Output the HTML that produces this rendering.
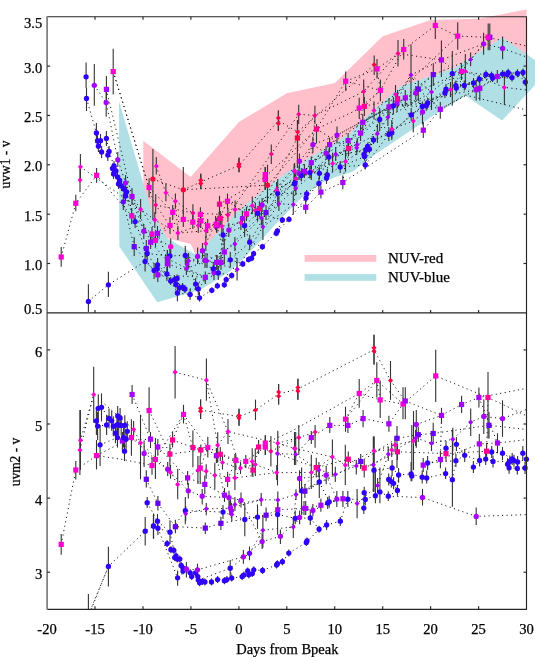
<!DOCTYPE html><html><head><meta charset="utf-8"><title>NUV colour curves</title>
<style>html,body{margin:0;padding:0;background:#fff}svg{display:block}text{font-family:"Liberation Serif","Times New Roman",serif;fill:#000;stroke:#000;stroke-width:0.25px}</style></head><body>
<svg width="535" height="657" viewBox="0 0 535 657">
<rect width="535" height="657" fill="#fff"/>
<polygon points="143.3,140.7 190.6,176.9 239.2,121.8 286.8,93.3 334.8,83.0 382.7,36.2 430.7,19.9 478.6,18.8 526.6,9.5 526.6,75.0 430.0,100.0 383.0,125.0 335.0,160.0 287.0,190.0 239.0,222.0 195.5,254.6 190.8,244.0 167.0,238.2 143.3,228.0" fill="#ffc0cb"/>
<polygon points="119.0,101.3 152.0,213.0 167.0,238.2 195.5,254.6 203.7,246.6 222.4,228.0 235.0,214.0 253.7,198.5 272.4,183.0 290.0,170.3 305.2,160.4 320.4,151.3 335.6,142.2 350.8,133.0 357.4,124.5 376.0,108.0 400.0,86.5 454.7,67.7 502.5,37.3 535.0,60.0 535.0,85.0 502.0,120.6 465.5,95.8 430.0,117.8 400.0,137.8 370.0,158.0 352.0,172.0 335.6,177.1 320.0,183.5 305.2,194.5 290.0,209.5 274.8,225.0 259.9,241.4 244.9,257.1 230.0,271.4 215.0,281.0 200.0,290.0 157.2,302.2 119.3,246.4" fill="#b0e0e6"/>
<rect x="304.6" y="255" width="71.7" height="6.8" fill="#ffc0cb"/>
<rect x="304.6" y="274.1" width="71.7" height="6.7" fill="#b0e0e6"/>
<text x="388" y="263.4" font-size="15">NUV-red</text>
<text x="388" y="282" font-size="15">NUV-blue</text>
<defs><clipPath id="fr"><rect x="47.1" y="16.7" width="479.4" height="592.5999999999999"/></clipPath></defs>
<g clip-path="url(#fr)" fill="none" stroke="#000" stroke-width="0.95" stroke-dasharray="1.1,3.4" stroke-linecap="butt">
<polyline points="61.2,257.0 75.8,203.3 96.6,175.3 131.7,215.9 152.0,234.0 170.0,225.5"/>
<polyline points="80.4,166.8 140.6,209.3 154.8,219.9 177.9,233.1 198.3,225.5"/>
<polyline points="88.4,301.5 108.4,284.8 145.1,261.5"/>
<polyline points="86.5,98.5 96.4,133.0"/>
<polyline points="94.3,85.3 106.2,102.6 117.8,159.8 125.6,182.8 143.8,231.2 170.7,246.7"/>
<polyline points="106.4,89.4 132.0,196.5 150.6,242.2 167.4,261.0"/>
<polyline points="113.2,71.6 149.1,187.5 172.7,212.3 183.3,219.4"/>
<polyline points="113.2,71.6 151.5,196.0 155.7,205.0 170.0,225.5"/>
<polyline points="123.3,201.8 134.2,246.7 157.8,274.8 205.3,277.3"/>
<polyline points="152.9,179.1 183.3,189.8 267.5,185.2"/>
<polyline points="156.3,166.2 165.9,192.8 175.4,201.2 192.9,213.0 227.9,214.8 271.3,154.0 298.7,114.3 314.9,115.4 363.7,91.5 398.0,53.5 441.4,59.9"/>
<polyline points="183.3,189.8 200.8,182.0 239.0,165.4 278.4,120.6 297.6,132.0 374.2,64.8"/>
<polyline points="219.5,204.2 265.2,177.0 316.5,129.1 345.7,81.2 377.0,68.9 403.7,49.5 435.3,25.5 457.7,36.1 487.8,37.3 526.5,46.0"/>
<polyline points="227.5,201.2 259.4,208.8 297.4,138.0 314.9,115.4"/>
<polyline points="246.5,213.8 267.5,185.2 316.5,129.1 364.4,106.3 380.4,90.3 403.7,49.5"/>
<polyline points="255.3,210.3 294.6,170.8 332.6,163.5 374.0,110.4 395.5,94.2 457.7,36.1"/>
<polyline points="262.1,205.0 299.4,161.2 312.9,144.7 337.0,135.1 389.0,107.0 411.0,75.0 441.4,59.9 483.6,43.8 502.6,48.4 526.5,57.0"/>
<polyline points="266.0,212.6 304.4,171.4 329.6,144.7 362.8,122.3 397.0,103.0 433.3,74.6 470.6,59.4 490.0,37.3"/>
<polyline points="262.9,226.8 293.3,204.6 305.7,207.3 320.9,192.1 342.8,182.5 423.3,130.2 440.3,109.3 465.3,95.0 526.5,110.0"/>
<polyline points="237.1,269.4 262.9,226.8"/>
<polyline points="413.3,121.0 450.5,89.4 465.3,71.3 504.4,87.4 526.5,90.0"/>
<polyline points="405.3,97.9 461.4,71.4 497.3,76.5"/>
<polyline points="61.2,544.4 75.8,470.0 96.5,455.6 123.0,459.5 152.0,465.5"/>
<polyline points="79.9,450.0 80.4,440.2 93.7,394.5 133.6,429.4 140.5,442.8 170.5,472.4 177.7,484.4"/>
<polyline points="91.3,609.3 108.4,566.5 145.2,531.2 153.6,526.1"/>
<polyline points="132.1,394.5 150.5,439.2 157.8,447.0 187.6,477.9 204.8,484.4 224.5,495.1"/>
<polyline points="149.1,410.5 169.9,454.1 200.8,450.0 220.3,454.3 252.9,470.1"/>
<polyline points="146.3,479.3 157.9,503.3 175.4,526.7 205.3,528.1 220.9,523.3 266.1,515.2 277.8,509.8"/>
<polyline points="144.1,453.4 167.7,469.2 188.3,490.8 202.2,496.2 229.0,497.7 241.0,500.3"/>
<polyline points="175.1,372.2 206.4,380.2 217.7,445.2 228.0,431.6 277.8,443.2 298.8,437.6"/>
<polyline points="183.5,414.4 172.6,440.0 169.9,454.1"/>
<polyline points="183.5,414.4 192.9,447.5 207.8,447.5"/>
<polyline points="200.6,410.0 239.0,416.7 255.5,410.0 278.6,394.0 297.9,389.0 374.0,349.7 390.5,380.5 405.3,401.0"/>
<polyline points="157.9,528.2 177.6,577.8 186.4,569.0 197.5,569.8 243.4,556.8 262.1,541.6 280.4,536.3 299.6,517.4"/>
<polyline points="157.5,521.2 170.0,532.2 185.3,510.6 223.0,512.1 244.8,519.5 257.5,517.1 277.6,514.5"/>
<polyline points="198.3,580.1 230.2,568.2 249.5,553.3 262.9,530.2 293.3,526.9 305.7,508.4 320.9,505.3 342.9,498.8"/>
<polyline points="185.7,513.7 206.3,508.8 229.8,508.3 261.2,499.7 277.8,500.0 296.0,494.6 335.3,474.4 356.3,466.0 373.3,464.8"/>
<polyline points="214.8,475.3 234.9,477.9 276.7,472.6 311.3,472.5 332.4,456.9 345.3,465.1 374.0,450.8 395.0,444.9 413.5,441.0"/>
<polyline points="258.6,447.0 270.9,451.3 316.3,467.6 348.3,459.2 364.2,468.1 397.4,451.8 446.0,453.6 486.6,451.2"/>
<polyline points="270.0,441.0 290.0,432.0 359.2,393.5 376.8,380.5 403.0,404.0"/>
<polyline points="345.5,419.2 376.8,380.5"/>
<polyline points="295.7,454.4 311.3,437.5 329.8,425.4 347.9,425.4 363.1,418.6 388.9,423.8 405.3,401.0"/>
<polyline points="403.0,404.0 435.7,375.9 488.0,397.5 526.5,415.8"/>
<polyline points="416.3,424.5 441.5,415.4 461.6,404.5 478.9,397.5 526.5,388.4"/>
<polyline points="388.3,496.2 422.5,497.5 476.2,516.4 526.5,514.6"/>
<polyline points="431.5,443.3 452.8,439.3 470.7,422.2 483.8,416.4 502.5,418.6 526.5,409.4"/>
<polyline points="433.2,433.5 489.0,425.3 526.5,429.5"/>
<polyline points="440.4,459.4 479.3,443.9 497.5,443.0 526.5,439.6"/>
<polyline points="299.5,478.5 326.2,475.2 336.8,499.1 357.1,503.5 377.6,485.5 388.3,454.2 415.6,438.0 431.5,443.3"/>
<polyline points="304.9,491.2 360.7,461.5 397.0,438.3 418.3,434.7 433.2,433.5"/>
<polyline points="135.1,221.6 147.2,253.5 157.2,268.7 166.9,274.0 177.4,293.0 190.1,294.5 199.5,297.8 211.8,290.3 217.4,285.8 224.3,284.8 231.7,275.4 242.7,263.9 253.6,253.7 262.4,246.7 277.4,231.0 289.0,219.3 306.0,198.1 318.9,183.5 327.3,174.9 340.2,167.0 364.5,156.6 373.5,140.0 391.8,132.7 411.2,114.8 426.2,105.8 444.9,92.9 456.3,88.0 473.5,83.0 485.9,74.5 502.6,74.1 517.4,73.3 525.3,82.1"/>
<polyline points="145.1,261.5 154.1,270.4 170.7,281.1 179.6,287.8 184.9,289.0 198.3,289.0 213.3,268.8 230.3,259.8 249.7,242.2 277.7,193.3 294.4,183.7 309.8,172.6 328.9,157.1 365.8,149.7 379.7,119.5 393.4,105.8 427.7,103.0 446.0,89.1 452.3,73.6 464.3,85.4 479.3,79.1 491.5,75.6 508.2,72.7 523.0,72.5"/>
<polyline points="169.9,256.0 185.3,255.4 195.6,284.1 218.3,272.9 223.1,235.0 244.6,225.7 257.6,213.3 282.4,219.9"/>
<polyline points="186.4,268.4 207.0,261.0 234.9,244.1 261.4,217.9 278.9,203.7 295.8,188.3 335.7,154.2 357.2,144.7 377.4,133.7 387.9,117.2 431.5,92.1 470.6,59.4"/>
<polyline points="197.6,256.4 202.5,250.7 217.0,262.4 228.8,230.1 242.4,218.3 262.1,205.0 299.1,173.3 326.1,153.2 337.0,135.1 415.8,92.9 422.5,112.0"/>
<polyline points="205.3,277.3 216.8,262.4 224.3,251.9 304.4,171.4 311.3,162.7 348.1,140.6 360.6,133.1 389.0,107.0 476.2,89.7 497.3,76.5"/>
<polyline points="205.8,243.7 215.6,222.9 235.1,209.5 252.3,205.7 295.8,178.7 345.5,161.5 391.8,129.1 413.3,121.0"/>
<polyline points="206.0,230.7 221.8,226.3 240.9,222.8 276.6,189.0 311.0,171.4 348.5,148.5 397.6,98.8"/>
<polyline points="365.3,165.0 388.8,134.3 422.3,106.4 455.8,85.6 492.6,78.0 512.0,77.6 526.5,75.0"/>
<polyline points="411.0,75.0 418.3,89.1 440.3,109.3"/>
<polyline points="96.4,133.0 97.5,141.0"/>
<polyline points="97.5,141.0 100.5,140.7"/>
<polyline points="98.4,146.2 100.5,140.7"/>
<polyline points="100.5,140.7 106.4,138.5"/>
<polyline points="101.6,151.9 109.1,151.5"/>
<polyline points="106.4,138.5 109.1,151.5"/>
<polyline points="107.8,155.1 109.1,151.5"/>
<polyline points="109.1,151.5 114.0,166.0"/>
<polyline points="112.5,168.5 114.0,166.0"/>
<polyline points="113.5,174.0 116.0,171.0"/>
<polyline points="116.0,171.0 117.5,177.0"/>
<polyline points="117.5,177.0 119.7,180.5"/>
<polyline points="118.5,184.0 121.5,186.0"/>
<polyline points="124.0,189.0 126.5,192.0"/>
<polyline points="125.5,196.0 135.1,221.6"/>
<polyline points="126.5,192.0 135.1,221.6"/>
<polyline points="145.1,261.5 147.2,253.5"/>
<polyline points="147.2,253.5 169.9,256.0"/>
<polyline points="154.1,270.4 157.2,268.7"/>
<polyline points="157.6,264.8 166.9,274.0"/>
<polyline points="166.9,274.0 170.7,281.1"/>
<polyline points="170.7,281.1 174.4,279.6"/>
<polyline points="174.4,279.6 177.1,278.5"/>
<polyline points="175.9,284.4 179.6,287.8"/>
<polyline points="177.1,278.5 179.6,287.8"/>
<polyline points="177.4,293.0 179.6,287.8"/>
<polyline points="185.3,255.4 213.3,268.8"/>
<polyline points="195.6,284.1 198.3,289.0"/>
<polyline points="198.3,289.0 199.5,297.8"/>
<polyline points="213.3,268.8 218.3,272.9"/>
<polyline points="218.3,272.9 231.7,275.4"/>
<polyline points="224.3,284.8 226.2,279.6"/>
<polyline points="226.2,279.6 231.7,275.4"/>
<polyline points="230.3,259.8 242.7,263.9"/>
<polyline points="242.7,263.9 248.6,259.4"/>
<polyline points="244.6,225.7 249.7,242.2"/>
<polyline points="248.6,259.4 251.6,258.2"/>
<polyline points="249.7,242.2 262.4,246.7"/>
<polyline points="251.6,258.2 253.6,253.7"/>
<polyline points="276.3,233.2 277.4,231.0"/>
<polyline points="277.4,231.0 282.4,219.9"/>
<polyline points="277.7,193.3 306.7,193.9"/>
<polyline points="282.4,219.9 289.0,219.3"/>
<polyline points="294.4,183.7 301.4,175.6"/>
<polyline points="301.4,175.6 309.8,172.6"/>
<polyline points="306.7,193.9 318.9,183.5"/>
<polyline points="309.8,172.6 319.4,173.3"/>
<polyline points="319.4,173.3 327.3,174.9"/>
<polyline points="328.9,157.1 340.2,167.0"/>
<polyline points="340.2,167.0 365.3,165.0"/>
<polyline points="364.0,154.3 365.8,149.7"/>
<polyline points="365.3,165.0 369.4,149.2"/>
<polyline points="365.8,149.7 369.4,149.2"/>
<polyline points="369.4,149.2 373.5,140.0"/>
<polyline points="379.7,119.5 388.8,134.3"/>
<polyline points="388.8,134.3 391.8,132.7"/>
<polyline points="391.8,132.7 393.4,105.8"/>
<polyline points="393.4,105.8 422.3,106.4"/>
<polyline points="411.2,114.8 422.3,106.4"/>
<polyline points="422.3,106.4 426.2,105.8"/>
<polyline points="426.2,105.8 427.7,103.0"/>
<polyline points="444.9,92.9 446.0,89.1"/>
<polyline points="446.0,89.1 456.3,88.0"/>
<polyline points="452.3,73.6 455.8,85.6"/>
<polyline points="455.8,85.6 464.3,85.4"/>
<polyline points="464.3,85.4 473.5,83.0"/>
<polyline points="473.5,83.0 479.3,79.1"/>
<polyline points="479.3,79.1 485.9,74.5"/>
<polyline points="485.9,74.5 491.5,75.6"/>
<polyline points="491.5,75.6 492.6,78.0"/>
<polyline points="492.6,78.0 502.6,74.1"/>
<polyline points="502.6,74.1 507.2,74.5"/>
<polyline points="507.2,74.5 512.0,77.6"/>
<polyline points="508.2,72.7 517.4,73.3"/>
<polyline points="512.0,77.6 517.4,73.3"/>
<polyline points="517.4,73.3 523.0,72.5"/>
<polyline points="523.0,72.5 525.3,82.1"/>
<polyline points="197.6,256.4 205.0,260.4"/>
<polyline points="202.5,250.7 205.0,260.4"/>
<polyline points="205.0,260.4 217.0,262.4"/>
<polyline points="214.0,272.6 217.0,262.4"/>
<polyline points="299.1,173.3 312.9,144.7"/>
<polyline points="312.9,144.7 326.1,153.2"/>
<polyline points="132.0,196.5 157.5,233.3"/>
<polyline points="150.6,242.2 157.5,233.3"/>
<polyline points="157.5,233.3 167.4,258.8"/>
<polyline points="157.8,274.8 167.4,263.8"/>
<polyline points="167.4,258.8 205.3,277.3"/>
<polyline points="167.4,263.8 205.3,277.3"/>
<polyline points="216.8,225.8 224.3,251.9"/>
<polyline points="216.8,262.4 221.0,262.4"/>
<polyline points="221.0,262.4 224.3,251.9"/>
<polyline points="311.3,162.7 329.6,144.7"/>
<polyline points="329.6,144.7 348.1,140.6"/>
<polyline points="342.8,182.5 348.1,140.6"/>
<polyline points="360.6,133.1 362.8,122.3"/>
<polyline points="362.8,122.3 389.0,107.0"/>
<polyline points="389.0,107.0 397.0,103.0"/>
<polyline points="397.0,103.0 405.3,97.9"/>
<polyline points="405.3,97.9 440.3,109.3"/>
<polyline points="440.3,109.3 476.2,89.7"/>
<polyline points="441.4,59.9 476.2,89.7"/>
<polyline points="476.2,89.7 479.8,88.3"/>
<polyline points="479.8,88.3 497.3,76.5"/>
<polyline points="152.0,234.0 155.5,240.4"/>
<polyline points="155.5,240.4 170.0,225.5"/>
<polyline points="170.0,225.5 183.3,219.4"/>
<polyline points="183.3,219.4 192.8,222.1"/>
<polyline points="192.8,222.1 200.8,220.9"/>
<polyline points="200.4,214.4 207.7,225.8"/>
<polyline points="200.8,220.9 207.7,225.8"/>
<polyline points="207.7,225.8 216.5,224.7"/>
<polyline points="216.5,224.7 227.5,201.2"/>
<polyline points="227.5,201.2 246.5,213.8"/>
<polyline points="246.5,213.8 265.2,179.4"/>
<polyline points="345.7,81.2 380.4,90.3"/>
<polyline points="359.2,108.1 380.4,90.3"/>
<polyline points="377.0,68.9 380.4,90.3"/>
<polyline points="461.4,71.4 488.2,37.3"/>
<polyline points="175.4,201.2 177.9,233.1"/>
<polyline points="177.9,233.1 206.0,230.7"/>
<polyline points="198.3,225.5 206.0,230.7"/>
<polyline points="206.0,230.7 215.6,222.9"/>
<polyline points="215.6,222.9 221.8,226.3"/>
<polyline points="235.1,209.5 255.3,210.3"/>
<polyline points="240.9,222.8 255.3,210.3"/>
<polyline points="252.3,205.7 255.3,210.3"/>
<polyline points="294.6,170.8 295.8,178.7"/>
<polyline points="295.8,178.7 332.6,163.5"/>
<polyline points="332.6,163.5 345.5,161.5"/>
<polyline points="345.5,161.5 374.0,110.4"/>
<polyline points="395.5,94.2 413.3,121.0"/>
<polyline points="134.2,246.7 146.3,248.5"/>
<polyline points="418.3,89.1 433.3,74.6"/>
<polyline points="155.7,205.0 192.9,213.0"/>
<polyline points="311.0,171.4 314.9,115.4"/>
<polyline points="316.5,129.1 348.5,148.5"/>
<polyline points="348.5,148.5 364.4,106.3"/>
<polyline points="364.4,106.3 397.6,98.8"/>
<polyline points="186.4,268.4 188.6,260.9"/>
<polyline points="187.1,264.6 188.6,260.9"/>
<polyline points="188.6,260.9 207.0,261.0"/>
<polyline points="207.0,261.0 237.1,269.4"/>
<polyline points="234.9,244.1 237.1,269.4"/>
<polyline points="261.4,217.9 262.9,226.8"/>
<polyline points="262.9,226.8 278.9,203.7"/>
<polyline points="278.9,203.7 293.3,204.6"/>
<polyline points="293.3,204.6 295.8,188.3"/>
<polyline points="294.1,171.5 295.8,188.3"/>
<polyline points="387.9,117.2 411.0,75.0"/>
<polyline points="411.0,75.0 431.5,92.1"/>
<polyline points="79.9,450.0 93.7,394.5"/>
<polyline points="177.7,484.4 197.9,470.3"/>
<polyline points="197.9,470.3 206.2,471.2"/>
<polyline points="206.2,471.2 214.8,475.3"/>
<polyline points="206.4,380.2 228.0,431.6"/>
<polyline points="222.5,462.5 240.5,468.0"/>
<polyline points="228.0,431.6 240.5,468.0"/>
<polyline points="234.9,477.9 240.5,468.0"/>
<polyline points="240.5,468.0 255.3,464.5"/>
<polyline points="252.2,461.4 255.3,464.5"/>
<polyline points="255.3,464.5 276.7,472.6"/>
<polyline points="277.8,443.2 294.5,448.3"/>
<polyline points="294.5,448.3 332.4,456.9"/>
<polyline points="374.0,450.8 391.7,449.9"/>
<polyline points="391.7,449.9 395.0,444.9"/>
<polyline points="122.4,440.8 150.5,439.2"/>
<polyline points="216.4,455.7 224.5,495.1"/>
<polyline points="277.8,509.8 305.7,508.4"/>
<polyline points="405.3,401.0 441.5,415.4"/>
<polyline points="423.2,465.1 440.4,459.4"/>
<polyline points="440.4,459.4 441.5,415.4"/>
<polyline points="478.9,397.5 497.5,443.0"/>
<polyline points="96.5,455.6 131.4,437.5"/>
<polyline points="131.4,437.5 155.4,459.5"/>
<polyline points="152.0,465.5 155.4,459.5"/>
<polyline points="155.4,459.5 183.5,414.4"/>
<polyline points="183.5,414.4 207.8,447.5"/>
<polyline points="200.2,468.0 207.8,447.5"/>
<polyline points="207.8,447.5 235.8,460.4"/>
<polyline points="227.6,479.4 235.8,460.4"/>
<polyline points="235.8,460.4 245.8,461.4"/>
<polyline points="245.8,461.4 265.3,447.0"/>
<polyline points="345.5,419.2 359.2,393.5"/>
<polyline points="359.2,393.5 380.2,399.9"/>
<polyline points="376.8,380.5 380.2,399.9"/>
<polyline points="380.2,399.9 403.0,404.0"/>
<polyline points="88.4,615.0 108.4,566.5"/>
<polyline points="96.4,420.9 97.6,426.1"/>
<polyline points="97.6,426.1 106.6,425.0"/>
<polyline points="98.3,408.3 101.5,407.3"/>
<polyline points="100.1,444.8 117.5,437.6"/>
<polyline points="101.5,407.3 109.0,418.4"/>
<polyline points="106.6,425.0 113.3,426.2"/>
<polyline points="109.0,418.4 111.7,420.8"/>
<polyline points="111.7,420.8 113.3,426.2"/>
<polyline points="113.3,426.2 116.9,424.8"/>
<polyline points="115.5,433.2 117.5,437.6"/>
<polyline points="116.9,424.8 118.7,425.0"/>
<polyline points="117.5,437.6 123.5,437.5"/>
<polyline points="117.7,416.0 120.1,417.9"/>
<polyline points="120.1,417.9 121.2,425.4"/>
<polyline points="121.2,425.4 124.8,425.3"/>
<polyline points="123.5,437.5 126.1,439.0"/>
<polyline points="124.5,451.2 126.1,439.0"/>
<polyline points="124.8,425.3 127.3,431.3"/>
<polyline points="126.1,439.0 127.3,431.3"/>
<polyline points="147.2,502.7 157.5,521.2"/>
<polyline points="153.4,525.9 157.9,528.2"/>
<polyline points="157.9,528.2 170.0,532.2"/>
<polyline points="167.1,543.6 170.9,549.7"/>
<polyline points="170.0,532.2 173.8,550.3"/>
<polyline points="170.9,549.7 173.8,550.3"/>
<polyline points="173.8,550.3 176.0,555.8"/>
<polyline points="174.7,557.6 176.0,555.8"/>
<polyline points="177.3,559.1 179.8,559.1"/>
<polyline points="179.8,559.1 181.1,565.5"/>
<polyline points="181.1,565.5 183.3,568.2"/>
<polyline points="183.0,571.0 190.2,572.8"/>
<polyline points="190.2,572.8 195.5,572.8"/>
<polyline points="191.7,576.6 197.8,576.6"/>
<polyline points="195.5,572.8 197.8,576.6"/>
<polyline points="197.8,576.6 199.6,582.7"/>
<polyline points="199.6,582.7 202.4,581.5"/>
<polyline points="204.9,581.9 211.5,581.9"/>
<polyline points="211.5,581.9 217.6,579.6"/>
<polyline points="217.6,579.6 224.4,580.7"/>
<polyline points="224.4,580.7 226.9,579.6"/>
<polyline points="226.9,579.6 231.7,578.1"/>
<polyline points="230.2,568.2 231.7,578.1"/>
<polyline points="231.7,578.1 242.1,576.6"/>
<polyline points="242.1,576.6 243.9,575.1"/>
<polyline points="243.9,575.1 248.8,574.8"/>
<polyline points="247.7,571.0 248.8,574.8"/>
<polyline points="248.8,574.8 252.3,573.6"/>
<polyline points="252.3,573.6 253.8,569.8"/>
<polyline points="253.8,569.8 262.6,570.5"/>
<polyline points="262.6,570.5 276.6,564.9"/>
<polyline points="276.6,564.9 282.4,561.7"/>
<polyline points="277.6,514.5 295.2,518.3"/>
<polyline points="282.4,561.7 288.8,553.1"/>
<polyline points="288.8,553.1 306.3,542.6"/>
<polyline points="295.2,518.3 310.3,518.0"/>
<polyline points="301.6,490.8 319.3,482.0"/>
<polyline points="306.3,542.6 319.1,529.2"/>
<polyline points="310.3,518.0 319.1,529.2"/>
<polyline points="319.1,529.2 326.6,525.0"/>
<polyline points="319.3,482.0 329.2,501.8"/>
<polyline points="326.6,525.0 340.3,521.2"/>
<polyline points="327.7,503.0 329.2,501.8"/>
<polyline points="329.2,501.8 347.8,499.2"/>
<polyline points="340.3,521.2 347.8,499.2"/>
<polyline points="347.8,499.2 365.3,499.5"/>
<polyline points="363.8,508.1 365.3,499.5"/>
<polyline points="364.2,492.7 365.3,499.5"/>
<polyline points="365.3,499.5 375.4,495.7"/>
<polyline points="374.0,470.2 392.1,467.9"/>
<polyline points="375.4,495.7 379.9,491.9"/>
<polyline points="379.9,491.9 388.3,496.2"/>
<polyline points="388.3,496.2 397.4,490.4"/>
<polyline points="388.7,479.4 391.3,481.6"/>
<polyline points="392.1,467.9 398.6,474.9"/>
<polyline points="393.6,483.3 397.4,490.4"/>
<polyline points="397.4,490.4 398.6,474.9"/>
<polyline points="398.6,474.9 411.1,474.0"/>
<polyline points="411.1,474.0 422.2,477.2"/>
<polyline points="422.2,477.2 426.7,477.9"/>
<polyline points="426.7,477.9 445.6,473.6"/>
<polyline points="427.6,463.0 455.9,460.7"/>
<polyline points="445.6,473.6 452.4,479.7"/>
<polyline points="446.0,448.2 456.4,444.3"/>
<polyline points="452.4,479.7 455.9,460.7"/>
<polyline points="455.9,460.7 464.7,455.3"/>
<polyline points="456.4,444.3 464.7,455.3"/>
<polyline points="464.7,455.3 479.6,460.5"/>
<polyline points="473.4,467.1 479.6,460.5"/>
<polyline points="479.6,460.5 485.7,459.1"/>
<polyline points="485.7,459.1 493.0,461.4"/>
<polyline points="491.7,452.0 502.5,453.2"/>
<polyline points="493.0,461.4 509.8,461.4"/>
<polyline points="502.5,453.2 512.2,458.9"/>
<polyline points="507.6,464.2 509.8,461.4"/>
<polyline points="509.1,467.8 517.3,468.4"/>
<polyline points="509.8,461.4 514.0,460.7"/>
<polyline points="514.0,460.7 517.6,462.0"/>
<polyline points="517.3,468.4 525.0,468.0"/>
<polyline points="517.6,462.0 526.4,459.2"/>
<polyline points="522.8,453.2 526.4,459.2"/>
<polyline points="525.0,468.0 526.4,459.2"/>
<polyline points="230.6,507.6 241.0,500.3"/>
<polyline points="241.0,500.3 262.1,541.6"/>
<polyline points="299.6,517.4 304.0,508.3"/>
<polyline points="304.0,508.3 312.9,510.5"/>
<polyline points="312.9,510.5 336.8,499.1"/>
<polyline points="172.6,440.0 192.9,447.5"/>
<polyline points="192.9,447.5 200.8,450.0"/>
<polyline points="252.9,470.1 258.6,447.0"/>
<polyline points="486.6,451.2 488.0,397.5"/>
<polyline points="229.8,508.3 234.9,504.5"/>
<polyline points="231.8,514.4 234.9,504.5"/>
<polyline points="234.9,504.5 261.2,499.7"/>
<polyline points="277.5,453.6 295.7,454.4"/>
<polyline points="293.3,526.9 296.0,494.6"/>
<polyline points="295.7,454.4 318.9,469.9"/>
<polyline points="296.0,494.6 318.9,469.9"/>
<polyline points="318.9,469.9 335.3,474.4"/>
<polyline points="373.3,464.8 388.3,454.2"/>
<polyline points="270.9,451.3 298.8,437.6"/>
<polyline points="298.8,437.6 315.1,432.1"/>
</g>
<g stroke="#333" stroke-width="1.1">
<line x1="122.4" y1="432.0" x2="122.4" y2="450.0"/>
<line x1="86.1" y1="62.5" x2="86.1" y2="88.0"/>
<line x1="86.5" y1="88.0" x2="86.5" y2="111.0"/>
<line x1="94.3" y1="64.0" x2="94.3" y2="105.8"/>
<line x1="106.4" y1="76.0" x2="106.4" y2="100.0"/>
<line x1="106.2" y1="92.0" x2="106.2" y2="116.8"/>
<line x1="113.2" y1="48.8" x2="113.2" y2="94.4"/>
<line x1="96.4" y1="123.0" x2="96.4" y2="141.0"/>
<line x1="97.5" y1="135.0" x2="97.5" y2="147.0"/>
<line x1="100.5" y1="134.0" x2="100.5" y2="147.0"/>
<line x1="98.4" y1="141.0" x2="98.4" y2="152.0"/>
<line x1="106.4" y1="131.0" x2="106.4" y2="146.0"/>
<line x1="101.6" y1="146.0" x2="101.6" y2="158.0"/>
<line x1="109.1" y1="146.0" x2="109.1" y2="157.0"/>
<line x1="107.8" y1="150.0" x2="107.8" y2="161.0"/>
<line x1="117.8" y1="152.0" x2="117.8" y2="167.0"/>
<line x1="80.4" y1="154.0" x2="80.4" y2="180.0"/>
<line x1="80.0" y1="168.0" x2="80.0" y2="192.0"/>
<line x1="96.6" y1="168.0" x2="96.6" y2="182.8"/>
<line x1="75.8" y1="194.7" x2="75.8" y2="211.3"/>
<line x1="61.2" y1="247.0" x2="61.2" y2="266.8"/>
<line x1="108.4" y1="271.8" x2="108.4" y2="296.9"/>
<line x1="88.4" y1="284.3" x2="88.4" y2="312.0"/>
<line x1="112.5" y1="163.5" x2="112.5" y2="173.5"/>
<line x1="114.0" y1="161.0" x2="114.0" y2="171.0"/>
<line x1="113.5" y1="169.0" x2="113.5" y2="179.0"/>
<line x1="116.0" y1="166.0" x2="116.0" y2="176.0"/>
<line x1="117.5" y1="172.0" x2="117.5" y2="182.0"/>
<line x1="119.7" y1="175.5" x2="119.7" y2="185.5"/>
<line x1="118.5" y1="179.0" x2="118.5" y2="189.0"/>
<line x1="121.5" y1="181.0" x2="121.5" y2="191.0"/>
<line x1="124.0" y1="184.0" x2="124.0" y2="194.0"/>
<line x1="126.5" y1="187.0" x2="126.5" y2="197.0"/>
<line x1="125.5" y1="191.0" x2="125.5" y2="201.0"/>
<line x1="125.6" y1="175.0" x2="125.6" y2="190.0"/>
<line x1="132.0" y1="188.0" x2="132.0" y2="205.0"/>
<line x1="123.3" y1="194.0" x2="123.3" y2="210.0"/>
<line x1="140.6" y1="199.0" x2="140.6" y2="219.0"/>
<line x1="131.7" y1="208.0" x2="131.7" y2="224.0"/>
<line x1="135.1" y1="215.0" x2="135.1" y2="228.0"/>
<line x1="143.8" y1="224.0" x2="143.8" y2="239.0"/>
<line x1="154.8" y1="212.0" x2="154.8" y2="228.0"/>
<line x1="152.0" y1="227.0" x2="152.0" y2="241.0"/>
<line x1="155.5" y1="233.0" x2="155.5" y2="247.0"/>
<line x1="150.6" y1="235.0" x2="150.6" y2="249.0"/>
<line x1="157.5" y1="226.0" x2="157.5" y2="241.0"/>
<line x1="134.2" y1="237.0" x2="134.2" y2="256.0"/>
<line x1="146.3" y1="240.0" x2="146.3" y2="257.0"/>
<line x1="147.2" y1="247.0" x2="147.2" y2="260.0"/>
<line x1="145.1" y1="252.0" x2="145.1" y2="271.4"/>
<line x1="154.1" y1="263.0" x2="154.1" y2="279.0"/>
<line x1="157.6" y1="258.0" x2="157.6" y2="272.0"/>
<line x1="157.2" y1="262.0" x2="157.2" y2="275.0"/>
<line x1="157.8" y1="267.0" x2="157.8" y2="282.0"/>
<line x1="156.3" y1="157.0" x2="156.3" y2="174.5"/>
<line x1="152.9" y1="149.0" x2="152.9" y2="220.0"/>
<line x1="149.1" y1="178.3" x2="149.1" y2="197.4"/>
<line x1="165.9" y1="183.7" x2="165.9" y2="201.2"/>
<line x1="175.4" y1="193.6" x2="175.4" y2="208.8"/>
<line x1="183.3" y1="167.0" x2="183.3" y2="214.0"/>
<line x1="200.8" y1="173.8" x2="200.8" y2="189.0"/>
<line x1="200.8" y1="173.8" x2="200.8" y2="189.0"/>
<line x1="155.7" y1="195.0" x2="155.7" y2="214.0"/>
<line x1="172.7" y1="205.0" x2="172.7" y2="220.0"/>
<line x1="183.3" y1="212.0" x2="183.3" y2="227.0"/>
<line x1="170.0" y1="217.0" x2="170.0" y2="234.0"/>
<line x1="192.9" y1="204.2" x2="192.9" y2="222.0"/>
<line x1="200.4" y1="207.2" x2="200.4" y2="228.0"/>
<line x1="192.8" y1="215.0" x2="192.8" y2="229.0"/>
<line x1="200.8" y1="214.0" x2="200.8" y2="228.0"/>
<line x1="198.3" y1="218.0" x2="198.3" y2="233.0"/>
<line x1="207.7" y1="219.0" x2="207.7" y2="233.0"/>
<line x1="206.0" y1="224.0" x2="206.0" y2="238.0"/>
<line x1="216.8" y1="218.0" x2="216.8" y2="233.0"/>
<line x1="215.6" y1="216.0" x2="215.6" y2="230.0"/>
<line x1="219.5" y1="195.8" x2="219.5" y2="214.0"/>
<line x1="219.1" y1="212.0" x2="219.1" y2="226.0"/>
<line x1="177.9" y1="226.0" x2="177.9" y2="240.0"/>
<line x1="239.0" y1="157.8" x2="239.0" y2="172.3"/>
<line x1="239.0" y1="157.8" x2="239.0" y2="172.3"/>
<line x1="271.3" y1="144.4" x2="271.3" y2="163.9"/>
<line x1="265.2" y1="167.0" x2="265.2" y2="190.0"/>
<line x1="265.2" y1="167.0" x2="265.2" y2="190.0"/>
<line x1="267.5" y1="164.7" x2="267.5" y2="203.4"/>
<line x1="227.5" y1="193.6" x2="227.5" y2="209.5"/>
<line x1="235.1" y1="200.4" x2="235.1" y2="217.9"/>
<line x1="252.3" y1="196.6" x2="252.3" y2="214.0"/>
<line x1="255.3" y1="203.0" x2="255.3" y2="217.0"/>
<line x1="259.4" y1="202.0" x2="259.4" y2="216.0"/>
<line x1="262.1" y1="198.0" x2="262.1" y2="212.0"/>
<line x1="257.6" y1="206.0" x2="257.6" y2="221.0"/>
<line x1="266.0" y1="205.0" x2="266.0" y2="220.0"/>
<line x1="261.4" y1="211.0" x2="261.4" y2="225.0"/>
<line x1="262.9" y1="218.0" x2="262.9" y2="240.0"/>
<line x1="246.5" y1="207.0" x2="246.5" y2="221.0"/>
<line x1="227.9" y1="208.0" x2="227.9" y2="222.0"/>
<line x1="220.3" y1="211.0" x2="220.3" y2="225.0"/>
<line x1="216.5" y1="218.0" x2="216.5" y2="232.0"/>
<line x1="221.8" y1="220.0" x2="221.8" y2="233.0"/>
<line x1="242.4" y1="211.0" x2="242.4" y2="225.0"/>
<line x1="240.9" y1="216.0" x2="240.9" y2="230.0"/>
<line x1="244.6" y1="218.0" x2="244.6" y2="237.0"/>
<line x1="228.8" y1="223.0" x2="228.8" y2="237.0"/>
<line x1="223.1" y1="228.0" x2="223.1" y2="242.0"/>
<line x1="277.7" y1="179.0" x2="277.7" y2="206.5"/>
<line x1="276.6" y1="182.0" x2="276.6" y2="196.0"/>
<line x1="278.9" y1="196.0" x2="278.9" y2="211.0"/>
<line x1="293.3" y1="190.8" x2="293.3" y2="214.4"/>
<line x1="294.1" y1="164.0" x2="294.1" y2="179.0"/>
<line x1="294.4" y1="176.0" x2="294.4" y2="191.0"/>
<line x1="282.4" y1="216.9" x2="282.4" y2="222.9"/>
<line x1="289.0" y1="216.3" x2="289.0" y2="222.3"/>
<line x1="170.7" y1="238.5" x2="170.7" y2="255.0"/>
<line x1="169.9" y1="246.0" x2="169.9" y2="268.0"/>
<line x1="167.4" y1="250.0" x2="167.4" y2="272.0"/>
<line x1="167.4" y1="250.0" x2="167.4" y2="272.0"/>
<line x1="166.9" y1="267.0" x2="166.9" y2="281.0"/>
<line x1="185.3" y1="246.0" x2="185.3" y2="263.9"/>
<line x1="188.6" y1="253.0" x2="188.6" y2="268.0"/>
<line x1="187.1" y1="257.0" x2="187.1" y2="272.0"/>
<line x1="186.4" y1="260.0" x2="186.4" y2="275.0"/>
<line x1="197.6" y1="247.4" x2="197.6" y2="263.9"/>
<line x1="202.5" y1="243.0" x2="202.5" y2="258.0"/>
<line x1="205.8" y1="236.0" x2="205.8" y2="251.0"/>
<line x1="205.0" y1="253.0" x2="205.0" y2="268.0"/>
<line x1="207.0" y1="253.0" x2="207.0" y2="268.0"/>
<line x1="205.3" y1="271.4" x2="205.3" y2="284.0"/>
<line x1="217.0" y1="255.0" x2="217.0" y2="270.0"/>
<line x1="214.0" y1="265.0" x2="214.0" y2="280.0"/>
<line x1="213.3" y1="262.0" x2="213.3" y2="276.0"/>
<line x1="218.3" y1="266.0" x2="218.3" y2="280.0"/>
<line x1="170.7" y1="277.1" x2="170.7" y2="285.1"/>
<line x1="174.4" y1="275.6" x2="174.4" y2="283.6"/>
<line x1="177.1" y1="274.5" x2="177.1" y2="282.5"/>
<line x1="175.9" y1="280.4" x2="175.9" y2="288.4"/>
<line x1="179.6" y1="283.8" x2="179.6" y2="291.8"/>
<line x1="182.6" y1="283.1" x2="182.6" y2="291.1"/>
<line x1="184.9" y1="285.0" x2="184.9" y2="293.0"/>
<line x1="177.4" y1="287.0" x2="177.4" y2="301.3"/>
<line x1="190.1" y1="289.0" x2="190.1" y2="300.0"/>
<line x1="195.6" y1="278.0" x2="195.6" y2="290.0"/>
<line x1="198.3" y1="283.0" x2="198.3" y2="295.0"/>
<line x1="199.5" y1="292.0" x2="199.5" y2="301.6"/>
<line x1="211.8" y1="287.3" x2="211.8" y2="293.3"/>
<line x1="217.4" y1="282.8" x2="217.4" y2="288.8"/>
<line x1="224.3" y1="281.8" x2="224.3" y2="287.8"/>
<line x1="226.2" y1="276.6" x2="226.2" y2="282.6"/>
<line x1="231.7" y1="272.4" x2="231.7" y2="278.4"/>
<line x1="242.7" y1="260.9" x2="242.7" y2="266.9"/>
<line x1="248.6" y1="256.4" x2="248.6" y2="262.4"/>
<line x1="251.6" y1="255.2" x2="251.6" y2="261.2"/>
<line x1="253.6" y1="250.7" x2="253.6" y2="256.7"/>
<line x1="262.4" y1="243.7" x2="262.4" y2="249.7"/>
<line x1="276.3" y1="230.2" x2="276.3" y2="236.2"/>
<line x1="277.4" y1="228.0" x2="277.4" y2="234.0"/>
<line x1="237.1" y1="257.9" x2="237.1" y2="280.6"/>
<line x1="216.8" y1="255.0" x2="216.8" y2="270.0"/>
<line x1="221.0" y1="255.0" x2="221.0" y2="270.0"/>
<line x1="230.3" y1="252.0" x2="230.3" y2="267.6"/>
<line x1="224.3" y1="238.5" x2="224.3" y2="264.6"/>
<line x1="234.9" y1="237.0" x2="234.9" y2="251.0"/>
<line x1="249.7" y1="234.7" x2="249.7" y2="249.7"/>
<line x1="278.4" y1="110.4" x2="278.4" y2="131.0"/>
<line x1="278.4" y1="110.4" x2="278.4" y2="131.0"/>
<line x1="298.7" y1="104.7" x2="298.7" y2="124.0"/>
<line x1="297.6" y1="120.0" x2="297.6" y2="150.0"/>
<line x1="297.4" y1="120.0" x2="297.4" y2="168.0"/>
<line x1="314.9" y1="105.8" x2="314.9" y2="124.0"/>
<line x1="316.5" y1="124.0" x2="316.5" y2="143.5"/>
<line x1="345.7" y1="71.6" x2="345.7" y2="91.0"/>
<line x1="363.7" y1="79.6" x2="363.7" y2="103.0"/>
<line x1="364.4" y1="97.0" x2="364.4" y2="116.0"/>
<line x1="359.2" y1="97.8" x2="359.2" y2="118.4"/>
<line x1="374.2" y1="55.6" x2="374.2" y2="75.0"/>
<line x1="377.0" y1="59.0" x2="377.0" y2="78.4"/>
<line x1="380.4" y1="79.6" x2="380.4" y2="101.3"/>
<line x1="374.0" y1="101.3" x2="374.0" y2="119.5"/>
<line x1="362.8" y1="114.0" x2="362.8" y2="131.0"/>
<line x1="360.6" y1="125.0" x2="360.6" y2="141.0"/>
<line x1="337.0" y1="126.4" x2="337.0" y2="143.5"/>
<line x1="312.9" y1="136.8" x2="312.9" y2="152.8"/>
<line x1="329.6" y1="137.6" x2="329.6" y2="152.0"/>
<line x1="348.1" y1="133.0" x2="348.1" y2="148.0"/>
<line x1="348.5" y1="141.0" x2="348.5" y2="156.0"/>
<line x1="357.2" y1="138.0" x2="357.2" y2="152.0"/>
<line x1="356.7" y1="141.0" x2="356.7" y2="155.0"/>
<line x1="326.1" y1="146.0" x2="326.1" y2="160.0"/>
<line x1="328.9" y1="150.0" x2="328.9" y2="164.0"/>
<line x1="335.7" y1="147.0" x2="335.7" y2="161.0"/>
<line x1="367.7" y1="142.5" x2="367.7" y2="150.5"/>
<line x1="365.8" y1="145.7" x2="365.8" y2="153.7"/>
<line x1="369.4" y1="145.2" x2="369.4" y2="153.2"/>
<line x1="364.0" y1="150.3" x2="364.0" y2="158.3"/>
<line x1="364.5" y1="152.6" x2="364.5" y2="160.6"/>
<line x1="373.5" y1="136.0" x2="373.5" y2="144.0"/>
<line x1="365.3" y1="160.4" x2="365.3" y2="169.5"/>
<line x1="379.7" y1="108.0" x2="379.7" y2="131.0"/>
<line x1="377.4" y1="124.0" x2="377.4" y2="143.0"/>
<line x1="387.9" y1="108.0" x2="387.9" y2="126.0"/>
<line x1="389.0" y1="98.0" x2="389.0" y2="116.0"/>
<line x1="388.8" y1="127.0" x2="388.8" y2="141.0"/>
<line x1="391.8" y1="125.0" x2="391.8" y2="140.0"/>
<line x1="391.8" y1="120.0" x2="391.8" y2="138.0"/>
<line x1="395.5" y1="85.0" x2="395.5" y2="104.0"/>
<line x1="397.0" y1="94.0" x2="397.0" y2="112.0"/>
<line x1="397.6" y1="90.0" x2="397.6" y2="108.0"/>
<line x1="393.4" y1="97.0" x2="393.4" y2="114.0"/>
<line x1="299.4" y1="153.6" x2="299.4" y2="168.8"/>
<line x1="345.5" y1="149.8" x2="345.5" y2="171.8"/>
<line x1="332.6" y1="152.8" x2="332.6" y2="172.6"/>
<line x1="340.2" y1="161.0" x2="340.2" y2="173.0"/>
<line x1="311.3" y1="156.6" x2="311.3" y2="180.0"/>
<line x1="294.6" y1="163.0" x2="294.6" y2="178.0"/>
<line x1="295.8" y1="171.0" x2="295.8" y2="186.0"/>
<line x1="299.1" y1="166.0" x2="299.1" y2="180.0"/>
<line x1="304.4" y1="164.0" x2="304.4" y2="178.0"/>
<line x1="311.0" y1="164.0" x2="311.0" y2="178.0"/>
<line x1="301.4" y1="169.6" x2="301.4" y2="181.6"/>
<line x1="309.8" y1="166.6" x2="309.8" y2="178.6"/>
<line x1="319.4" y1="167.3" x2="319.4" y2="179.3"/>
<line x1="327.3" y1="168.9" x2="327.3" y2="180.9"/>
<line x1="326.5" y1="171.9" x2="326.5" y2="183.9"/>
<line x1="318.9" y1="177.5" x2="318.9" y2="189.5"/>
<line x1="295.0" y1="177.2" x2="295.0" y2="189.2"/>
<line x1="295.8" y1="181.0" x2="295.8" y2="195.0"/>
<line x1="306.7" y1="189.9" x2="306.7" y2="197.9"/>
<line x1="306.0" y1="194.1" x2="306.0" y2="202.1"/>
<line x1="320.9" y1="185.5" x2="320.9" y2="198.4"/>
<line x1="342.8" y1="175.6" x2="342.8" y2="189.3"/>
<line x1="305.7" y1="200.7" x2="305.7" y2="213.7"/>
<line x1="398.0" y1="40.0" x2="398.0" y2="66.6"/>
<line x1="403.7" y1="38.9" x2="403.7" y2="59.4"/>
<line x1="435.3" y1="16.8" x2="435.3" y2="38.9"/>
<line x1="457.7" y1="22.2" x2="457.7" y2="49.8"/>
<line x1="411.0" y1="44.2" x2="411.0" y2="105.8"/>
<line x1="441.4" y1="40.4" x2="441.4" y2="77.0"/>
<line x1="433.3" y1="63.2" x2="433.3" y2="86.0"/>
<line x1="452.3" y1="51.0" x2="452.3" y2="105.8"/>
<line x1="461.4" y1="63.2" x2="461.4" y2="80.0"/>
<line x1="465.3" y1="54.0" x2="465.3" y2="89.5"/>
<line x1="470.6" y1="52.5" x2="470.6" y2="66.3"/>
<line x1="446.0" y1="84.1" x2="446.0" y2="94.1"/>
<line x1="444.9" y1="87.9" x2="444.9" y2="97.9"/>
<line x1="455.8" y1="80.6" x2="455.8" y2="90.6"/>
<line x1="456.3" y1="83.0" x2="456.3" y2="93.0"/>
<line x1="464.3" y1="80.4" x2="464.3" y2="90.4"/>
<line x1="473.5" y1="78.0" x2="473.5" y2="88.0"/>
<line x1="450.5" y1="82.0" x2="450.5" y2="97.0"/>
<line x1="418.3" y1="80.7" x2="418.3" y2="101.0"/>
<line x1="415.8" y1="86.0" x2="415.8" y2="100.0"/>
<line x1="431.5" y1="74.0" x2="431.5" y2="110.0"/>
<line x1="405.3" y1="90.0" x2="405.3" y2="106.0"/>
<line x1="427.7" y1="98.0" x2="427.7" y2="108.0"/>
<line x1="426.2" y1="100.8" x2="426.2" y2="110.8"/>
<line x1="422.3" y1="101.4" x2="422.3" y2="111.4"/>
<line x1="489.8" y1="23.6" x2="489.8" y2="50.2"/>
<line x1="488.2" y1="23.6" x2="488.2" y2="50.2"/>
<line x1="483.6" y1="32.7" x2="483.6" y2="54.8"/>
<line x1="502.6" y1="36.5" x2="502.6" y2="59.3"/>
<line x1="479.3" y1="75.1" x2="479.3" y2="83.1"/>
<line x1="485.9" y1="70.5" x2="485.9" y2="78.5"/>
<line x1="491.5" y1="71.6" x2="491.5" y2="79.6"/>
<line x1="492.6" y1="74.0" x2="492.6" y2="82.0"/>
<line x1="502.6" y1="70.1" x2="502.6" y2="78.1"/>
<line x1="508.2" y1="68.7" x2="508.2" y2="76.7"/>
<line x1="507.2" y1="70.5" x2="507.2" y2="78.5"/>
<line x1="512.0" y1="73.6" x2="512.0" y2="81.6"/>
<line x1="517.4" y1="69.3" x2="517.4" y2="77.3"/>
<line x1="523.0" y1="68.5" x2="523.0" y2="76.5"/>
<line x1="525.3" y1="78.1" x2="525.3" y2="86.1"/>
<line x1="497.3" y1="70.0" x2="497.3" y2="83.0"/>
<line x1="504.4" y1="71.5" x2="504.4" y2="104.9"/>
<line x1="476.2" y1="80.0" x2="476.2" y2="100.4"/>
<line x1="479.8" y1="80.0" x2="479.8" y2="100.4"/>
<line x1="423.3" y1="121.9" x2="423.3" y2="138.0"/>
<line x1="413.3" y1="112.0" x2="413.3" y2="132.3"/>
<line x1="411.2" y1="108.0" x2="411.2" y2="121.0"/>
<line x1="422.5" y1="104.0" x2="422.5" y2="124.5"/>
<line x1="440.3" y1="102.0" x2="440.3" y2="118.7"/>
<line x1="93.7" y1="366.8" x2="93.7" y2="422.7"/>
<line x1="80.4" y1="410.0" x2="80.4" y2="470.0"/>
<line x1="79.9" y1="410.0" x2="79.9" y2="475.0"/>
<line x1="132.1" y1="385.0" x2="132.1" y2="404.0"/>
<line x1="149.1" y1="387.3" x2="149.1" y2="432.0"/>
<line x1="98.3" y1="394.3" x2="98.3" y2="422.3"/>
<line x1="101.5" y1="393.3" x2="101.5" y2="421.3"/>
<line x1="96.4" y1="406.9" x2="96.4" y2="434.9"/>
<line x1="97.6" y1="412.1" x2="97.6" y2="440.1"/>
<line x1="100.1" y1="425.0" x2="100.1" y2="466.0"/>
<line x1="106.6" y1="415.0" x2="106.6" y2="435.0"/>
<line x1="109.0" y1="408.4" x2="109.0" y2="428.4"/>
<line x1="111.7" y1="410.8" x2="111.7" y2="430.8"/>
<line x1="113.3" y1="416.2" x2="113.3" y2="436.2"/>
<line x1="117.7" y1="406.0" x2="117.7" y2="426.0"/>
<line x1="120.1" y1="407.9" x2="120.1" y2="427.9"/>
<line x1="116.9" y1="414.8" x2="116.9" y2="434.8"/>
<line x1="118.7" y1="415.0" x2="118.7" y2="435.0"/>
<line x1="121.2" y1="415.4" x2="121.2" y2="435.4"/>
<line x1="124.8" y1="415.3" x2="124.8" y2="435.3"/>
<line x1="115.5" y1="423.2" x2="115.5" y2="443.2"/>
<line x1="117.5" y1="427.6" x2="117.5" y2="447.6"/>
<line x1="127.3" y1="421.3" x2="127.3" y2="441.3"/>
<line x1="123.5" y1="427.5" x2="123.5" y2="447.5"/>
<line x1="126.1" y1="429.0" x2="126.1" y2="449.0"/>
<line x1="124.5" y1="441.0" x2="124.5" y2="461.0"/>
<line x1="133.6" y1="421.0" x2="133.6" y2="438.0"/>
<line x1="131.4" y1="419.2" x2="131.4" y2="455.7"/>
<line x1="140.5" y1="414.7" x2="140.5" y2="479.3"/>
<line x1="150.5" y1="432.0" x2="150.5" y2="448.0"/>
<line x1="157.8" y1="439.0" x2="157.8" y2="455.0"/>
<line x1="144.1" y1="440.5" x2="144.1" y2="467.1"/>
<line x1="96.5" y1="440.0" x2="96.5" y2="469.4"/>
<line x1="155.4" y1="438.0" x2="155.4" y2="479.0"/>
<line x1="152.0" y1="457.0" x2="152.0" y2="474.7"/>
<line x1="75.8" y1="461.0" x2="75.8" y2="479.4"/>
<line x1="61.2" y1="534.0" x2="61.2" y2="554.7"/>
<line x1="108.4" y1="546.7" x2="108.4" y2="586.6"/>
<line x1="88.4" y1="594.0" x2="88.4" y2="609.3"/>
<line x1="145.2" y1="517.0" x2="145.2" y2="545.5"/>
<line x1="147.2" y1="497.0" x2="147.2" y2="508.0"/>
<line x1="146.3" y1="470.3" x2="146.3" y2="487.4"/>
<line x1="153.6" y1="513.6" x2="153.6" y2="538.7"/>
<line x1="157.5" y1="514.0" x2="157.5" y2="528.0"/>
<line x1="157.9" y1="521.0" x2="157.9" y2="535.0"/>
<line x1="157.9" y1="496.0" x2="157.9" y2="510.6"/>
<line x1="175.1" y1="346.0" x2="175.1" y2="398.4"/>
<line x1="206.4" y1="358.5" x2="206.4" y2="400.7"/>
<line x1="200.6" y1="399.6" x2="200.6" y2="419.0"/>
<line x1="200.6" y1="399.6" x2="200.6" y2="419.0"/>
<line x1="239.0" y1="408.7" x2="239.0" y2="425.8"/>
<line x1="239.0" y1="408.7" x2="239.0" y2="425.8"/>
<line x1="255.5" y1="399.6" x2="255.5" y2="420.1"/>
<line x1="183.5" y1="404.8" x2="183.5" y2="423.5"/>
<line x1="228.0" y1="419.0" x2="228.0" y2="444.0"/>
<line x1="172.6" y1="431.5" x2="172.6" y2="447.5"/>
<line x1="169.9" y1="443.7" x2="169.9" y2="466.5"/>
<line x1="192.9" y1="430.4" x2="192.9" y2="467.3"/>
<line x1="200.8" y1="444.4" x2="200.8" y2="456.6"/>
<line x1="207.8" y1="436.8" x2="207.8" y2="457.6"/>
<line x1="217.7" y1="432.3" x2="217.7" y2="462.7"/>
<line x1="216.4" y1="448.0" x2="216.4" y2="463.0"/>
<line x1="220.3" y1="447.0" x2="220.3" y2="461.0"/>
<line x1="222.5" y1="455.0" x2="222.5" y2="469.5"/>
<line x1="235.8" y1="454.3" x2="235.8" y2="470.0"/>
<line x1="245.8" y1="455.0" x2="245.8" y2="468.0"/>
<line x1="252.2" y1="448.3" x2="252.2" y2="475.6"/>
<line x1="255.3" y1="448.3" x2="255.3" y2="475.6"/>
<line x1="240.5" y1="462.0" x2="240.5" y2="474.0"/>
<line x1="252.9" y1="463.0" x2="252.9" y2="477.0"/>
<line x1="258.6" y1="440.0" x2="258.6" y2="454.0"/>
<line x1="265.3" y1="435.3" x2="265.3" y2="455.0"/>
<line x1="265.3" y1="435.3" x2="265.3" y2="455.0"/>
<line x1="167.7" y1="462.0" x2="167.7" y2="476.0"/>
<line x1="170.5" y1="465.0" x2="170.5" y2="478.7"/>
<line x1="200.2" y1="455.9" x2="200.2" y2="484.0"/>
<line x1="197.9" y1="455.9" x2="197.9" y2="484.0"/>
<line x1="206.2" y1="464.2" x2="206.2" y2="478.7"/>
<line x1="214.8" y1="462.7" x2="214.8" y2="489.3"/>
<line x1="187.6" y1="471.0" x2="187.6" y2="484.8"/>
<line x1="227.6" y1="471.8" x2="227.6" y2="487.0"/>
<line x1="234.9" y1="454.0" x2="234.9" y2="490.0"/>
<line x1="177.7" y1="468.8" x2="177.7" y2="499.2"/>
<line x1="188.3" y1="483.0" x2="188.3" y2="498.4"/>
<line x1="204.8" y1="475.6" x2="204.8" y2="493.9"/>
<line x1="202.2" y1="489.0" x2="202.2" y2="504.5"/>
<line x1="224.5" y1="488.0" x2="224.5" y2="502.0"/>
<line x1="229.0" y1="490.8" x2="229.0" y2="506.0"/>
<line x1="185.3" y1="497.0" x2="185.3" y2="524.3"/>
<line x1="185.7" y1="506.0" x2="185.7" y2="521.0"/>
<line x1="206.3" y1="503.0" x2="206.3" y2="515.2"/>
<line x1="223.0" y1="505.0" x2="223.0" y2="519.0"/>
<line x1="229.8" y1="501.0" x2="229.8" y2="515.0"/>
<line x1="153.4" y1="515.0" x2="153.4" y2="538.6"/>
<line x1="175.4" y1="519.7" x2="175.4" y2="533.3"/>
<line x1="205.3" y1="522.6" x2="205.3" y2="534.0"/>
<line x1="220.9" y1="516.7" x2="220.9" y2="530.0"/>
<line x1="277.8" y1="430.8" x2="277.8" y2="456.0"/>
<line x1="270.9" y1="436.0" x2="270.9" y2="466.5"/>
<line x1="277.5" y1="440.0" x2="277.5" y2="485.5"/>
<line x1="298.8" y1="425.0" x2="298.8" y2="455.0"/>
<line x1="294.5" y1="432.0" x2="294.5" y2="465.0"/>
<line x1="295.7" y1="432.0" x2="295.7" y2="465.0"/>
<line x1="276.7" y1="465.0" x2="276.7" y2="480.0"/>
<line x1="299.5" y1="470.3" x2="299.5" y2="489.3"/>
<line x1="301.6" y1="467.6" x2="301.6" y2="514.7"/>
<line x1="304.9" y1="484.0" x2="304.9" y2="498.0"/>
<line x1="296.0" y1="489.3" x2="296.0" y2="500.0"/>
<line x1="241.0" y1="492.4" x2="241.0" y2="507.6"/>
<line x1="234.9" y1="497.0" x2="234.9" y2="511.0"/>
<line x1="261.2" y1="493.0" x2="261.2" y2="506.0"/>
<line x1="277.8" y1="491.6" x2="277.8" y2="515.0"/>
<line x1="230.6" y1="500.0" x2="230.6" y2="515.0"/>
<line x1="231.4" y1="503.0" x2="231.4" y2="518.0"/>
<line x1="231.8" y1="507.0" x2="231.8" y2="521.0"/>
<line x1="277.8" y1="503.0" x2="277.8" y2="517.0"/>
<line x1="277.6" y1="507.0" x2="277.6" y2="534.8"/>
<line x1="266.1" y1="507.6" x2="266.1" y2="521.3"/>
<line x1="257.5" y1="504.5" x2="257.5" y2="528.8"/>
<line x1="244.8" y1="503.0" x2="244.8" y2="536.3"/>
<line x1="295.2" y1="510.6" x2="295.2" y2="524.3"/>
<line x1="299.6" y1="510.6" x2="299.6" y2="524.3"/>
<line x1="293.3" y1="519.0" x2="293.3" y2="538.0"/>
<line x1="304.0" y1="501.0" x2="304.0" y2="515.0"/>
<line x1="170.0" y1="520.3" x2="170.0" y2="543.9"/>
<line x1="167.1" y1="540.1" x2="167.1" y2="547.1"/>
<line x1="170.9" y1="546.2" x2="170.9" y2="553.2"/>
<line x1="173.8" y1="546.8" x2="173.8" y2="553.8"/>
<line x1="176.0" y1="552.3" x2="176.0" y2="559.3"/>
<line x1="174.7" y1="554.1" x2="174.7" y2="561.1"/>
<line x1="177.3" y1="555.6" x2="177.3" y2="562.6"/>
<line x1="179.8" y1="555.6" x2="179.8" y2="562.6"/>
<line x1="181.1" y1="562.0" x2="181.1" y2="569.0"/>
<line x1="183.3" y1="564.7" x2="183.3" y2="571.7"/>
<line x1="183.0" y1="567.5" x2="183.0" y2="574.5"/>
<line x1="190.2" y1="569.3" x2="190.2" y2="576.3"/>
<line x1="191.7" y1="573.1" x2="191.7" y2="580.1"/>
<line x1="195.5" y1="569.3" x2="195.5" y2="576.3"/>
<line x1="197.8" y1="573.1" x2="197.8" y2="580.1"/>
<line x1="198.3" y1="576.6" x2="198.3" y2="583.6"/>
<line x1="199.6" y1="579.2" x2="199.6" y2="586.2"/>
<line x1="202.4" y1="578.0" x2="202.4" y2="585.0"/>
<line x1="204.9" y1="578.4" x2="204.9" y2="585.4"/>
<line x1="211.5" y1="578.4" x2="211.5" y2="585.4"/>
<line x1="217.6" y1="576.1" x2="217.6" y2="583.1"/>
<line x1="186.4" y1="562.0" x2="186.4" y2="577.4"/>
<line x1="197.5" y1="563.7" x2="197.5" y2="576.0"/>
<line x1="177.6" y1="570.5" x2="177.6" y2="585.7"/>
<line x1="262.9" y1="515.0" x2="262.9" y2="547.7"/>
<line x1="262.1" y1="534.0" x2="262.1" y2="549.0"/>
<line x1="280.4" y1="529.4" x2="280.4" y2="543.9"/>
<line x1="243.4" y1="550.0" x2="243.4" y2="563.7"/>
<line x1="249.5" y1="546.5" x2="249.5" y2="560.2"/>
<line x1="230.2" y1="559.9" x2="230.2" y2="576.6"/>
<line x1="224.4" y1="577.2" x2="224.4" y2="584.2"/>
<line x1="226.9" y1="576.1" x2="226.9" y2="583.1"/>
<line x1="231.7" y1="574.6" x2="231.7" y2="581.6"/>
<line x1="242.1" y1="573.1" x2="242.1" y2="580.1"/>
<line x1="243.9" y1="571.6" x2="243.9" y2="578.6"/>
<line x1="247.7" y1="567.5" x2="247.7" y2="574.5"/>
<line x1="248.8" y1="571.3" x2="248.8" y2="578.3"/>
<line x1="252.3" y1="570.1" x2="252.3" y2="577.1"/>
<line x1="253.8" y1="566.3" x2="253.8" y2="573.3"/>
<line x1="262.6" y1="567.0" x2="262.6" y2="574.0"/>
<line x1="276.6" y1="561.4" x2="276.6" y2="568.4"/>
<line x1="277.4" y1="560.2" x2="277.4" y2="567.2"/>
<line x1="282.4" y1="558.2" x2="282.4" y2="565.2"/>
<line x1="288.8" y1="549.6" x2="288.8" y2="556.6"/>
<line x1="278.6" y1="384.0" x2="278.6" y2="404.5"/>
<line x1="278.6" y1="384.0" x2="278.6" y2="404.5"/>
<line x1="297.9" y1="378.7" x2="297.9" y2="399.7"/>
<line x1="297.9" y1="378.7" x2="297.9" y2="399.7"/>
<line x1="374.0" y1="334.8" x2="374.0" y2="364.5"/>
<line x1="374.0" y1="334.8" x2="374.0" y2="364.5"/>
<line x1="390.5" y1="361.0" x2="390.5" y2="399.9"/>
<line x1="376.8" y1="362.2" x2="376.8" y2="397.6"/>
<line x1="359.2" y1="378.9" x2="359.2" y2="407.8"/>
<line x1="380.2" y1="380.5" x2="380.2" y2="418.1"/>
<line x1="403.0" y1="387.3" x2="403.0" y2="419.2"/>
<line x1="405.3" y1="387.3" x2="405.3" y2="419.2"/>
<line x1="435.7" y1="349.7" x2="435.7" y2="402.1"/>
<line x1="441.5" y1="407.8" x2="441.5" y2="423.8"/>
<line x1="345.5" y1="406.7" x2="345.5" y2="431.8"/>
<line x1="329.8" y1="417.0" x2="329.8" y2="433.0"/>
<line x1="347.9" y1="417.0" x2="347.9" y2="433.0"/>
<line x1="363.1" y1="410.0" x2="363.1" y2="427.2"/>
<line x1="388.9" y1="415.8" x2="388.9" y2="431.8"/>
<line x1="416.3" y1="410.0" x2="416.3" y2="447.8"/>
<line x1="397.0" y1="426.0" x2="397.0" y2="468.0"/>
<line x1="418.3" y1="427.0" x2="418.3" y2="442.0"/>
<line x1="415.6" y1="430.0" x2="415.6" y2="446.0"/>
<line x1="413.5" y1="411.0" x2="413.5" y2="470.0"/>
<line x1="433.2" y1="422.7" x2="433.2" y2="444.3"/>
<line x1="431.5" y1="436.0" x2="431.5" y2="451.0"/>
<line x1="395.0" y1="437.0" x2="395.0" y2="452.0"/>
<line x1="391.7" y1="443.0" x2="391.7" y2="457.0"/>
<line x1="388.3" y1="447.0" x2="388.3" y2="461.0"/>
<line x1="397.4" y1="444.0" x2="397.4" y2="460.0"/>
<line x1="374.0" y1="436.4" x2="374.0" y2="466.0"/>
<line x1="315.1" y1="425.0" x2="315.1" y2="447.8"/>
<line x1="311.3" y1="431.0" x2="311.3" y2="444.0"/>
<line x1="295.0" y1="441.0" x2="295.0" y2="456.0"/>
<line x1="332.4" y1="439.4" x2="332.4" y2="475.2"/>
<line x1="348.3" y1="451.6" x2="348.3" y2="466.8"/>
<line x1="345.3" y1="444.8" x2="345.3" y2="485.0"/>
<line x1="360.7" y1="453.9" x2="360.7" y2="469.1"/>
<line x1="356.3" y1="460.0" x2="356.3" y2="474.4"/>
<line x1="364.2" y1="459.2" x2="364.2" y2="477.5"/>
<line x1="373.3" y1="436.4" x2="373.3" y2="492.0"/>
<line x1="374.0" y1="436.4" x2="374.0" y2="492.0"/>
<line x1="316.3" y1="457.7" x2="316.3" y2="477.5"/>
<line x1="318.9" y1="462.0" x2="318.9" y2="477.0"/>
<line x1="311.3" y1="454.7" x2="311.3" y2="488.9"/>
<line x1="326.2" y1="466.0" x2="326.2" y2="484.3"/>
<line x1="335.3" y1="466.8" x2="335.3" y2="482.0"/>
<line x1="319.3" y1="465.3" x2="319.3" y2="498.0"/>
<line x1="364.2" y1="486.7" x2="364.2" y2="498.7"/>
<line x1="365.3" y1="493.5" x2="365.3" y2="505.5"/>
<line x1="363.8" y1="502.1" x2="363.8" y2="514.1"/>
<line x1="375.4" y1="467.6" x2="375.4" y2="503.3"/>
<line x1="336.8" y1="491.0" x2="336.8" y2="507.0"/>
<line x1="342.9" y1="491.0" x2="342.9" y2="507.0"/>
<line x1="347.8" y1="491.0" x2="347.8" y2="507.0"/>
<line x1="327.7" y1="497.0" x2="327.7" y2="509.0"/>
<line x1="329.2" y1="495.8" x2="329.2" y2="507.8"/>
<line x1="320.9" y1="498.8" x2="320.9" y2="511.7"/>
<line x1="357.1" y1="488.9" x2="357.1" y2="518.3"/>
<line x1="305.7" y1="501.0" x2="305.7" y2="515.0"/>
<line x1="312.9" y1="504.0" x2="312.9" y2="516.3"/>
<line x1="310.3" y1="510.0" x2="310.3" y2="525.0"/>
<line x1="340.3" y1="517.0" x2="340.3" y2="526.0"/>
<line x1="326.6" y1="520.0" x2="326.6" y2="530.0"/>
<line x1="306.3" y1="539.1" x2="306.3" y2="546.1"/>
<line x1="307.0" y1="537.5" x2="307.0" y2="544.5"/>
<line x1="319.1" y1="525.7" x2="319.1" y2="532.7"/>
<line x1="446.0" y1="441.0" x2="446.0" y2="455.0"/>
<line x1="446.0" y1="446.0" x2="446.0" y2="461.0"/>
<line x1="440.4" y1="450.9" x2="440.4" y2="468.3"/>
<line x1="427.6" y1="456.0" x2="427.6" y2="470.0"/>
<line x1="423.2" y1="458.0" x2="423.2" y2="472.0"/>
<line x1="445.6" y1="467.6" x2="445.6" y2="479.0"/>
<line x1="392.1" y1="460.0" x2="392.1" y2="476.0"/>
<line x1="398.6" y1="468.0" x2="398.6" y2="482.8"/>
<line x1="411.1" y1="462.0" x2="411.1" y2="481.3"/>
<line x1="411.8" y1="425.0" x2="411.8" y2="481.3"/>
<line x1="422.2" y1="470.6" x2="422.2" y2="483.6"/>
<line x1="426.7" y1="470.6" x2="426.7" y2="483.6"/>
<line x1="388.7" y1="473.4" x2="388.7" y2="485.4"/>
<line x1="391.3" y1="475.6" x2="391.3" y2="487.6"/>
<line x1="393.6" y1="477.3" x2="393.6" y2="489.3"/>
<line x1="377.6" y1="478.0" x2="377.6" y2="493.0"/>
<line x1="397.4" y1="485.0" x2="397.4" y2="495.7"/>
<line x1="379.9" y1="467.6" x2="379.9" y2="503.3"/>
<line x1="388.3" y1="491.2" x2="388.3" y2="501.0"/>
<line x1="422.5" y1="488.9" x2="422.5" y2="505.6"/>
<line x1="461.6" y1="395.7" x2="461.6" y2="413.0"/>
<line x1="478.9" y1="387.5" x2="478.9" y2="407.6"/>
<line x1="488.0" y1="372.0" x2="488.0" y2="438.6"/>
<line x1="483.8" y1="399.4" x2="483.8" y2="434.0"/>
<line x1="502.5" y1="400.3" x2="502.5" y2="436.8"/>
<line x1="470.7" y1="408.5" x2="470.7" y2="435.9"/>
<line x1="489.0" y1="412.0" x2="489.0" y2="438.6"/>
<line x1="452.8" y1="427.7" x2="452.8" y2="451.4"/>
<line x1="456.4" y1="437.0" x2="456.4" y2="451.0"/>
<line x1="479.3" y1="434.0" x2="479.3" y2="460.0"/>
<line x1="497.5" y1="433.2" x2="497.5" y2="453.3"/>
<line x1="486.6" y1="443.0" x2="486.6" y2="459.0"/>
<line x1="491.7" y1="446.0" x2="491.7" y2="458.0"/>
<line x1="502.5" y1="447.0" x2="502.5" y2="460.0"/>
<line x1="464.7" y1="449.0" x2="464.7" y2="462.0"/>
<line x1="522.8" y1="446.0" x2="522.8" y2="460.0"/>
<line x1="455.9" y1="454.0" x2="455.9" y2="467.0"/>
<line x1="452.4" y1="430.0" x2="452.4" y2="506.7"/>
<line x1="479.6" y1="454.5" x2="479.6" y2="466.5"/>
<line x1="485.7" y1="453.1" x2="485.7" y2="465.1"/>
<line x1="493.0" y1="455.4" x2="493.0" y2="467.4"/>
<line x1="473.4" y1="461.0" x2="473.4" y2="473.0"/>
<line x1="512.2" y1="452.9" x2="512.2" y2="464.9"/>
<line x1="509.8" y1="455.4" x2="509.8" y2="467.4"/>
<line x1="507.6" y1="458.2" x2="507.6" y2="470.2"/>
<line x1="514.0" y1="454.7" x2="514.0" y2="466.7"/>
<line x1="517.6" y1="456.0" x2="517.6" y2="468.0"/>
<line x1="509.1" y1="461.8" x2="509.1" y2="473.8"/>
<line x1="517.3" y1="462.4" x2="517.3" y2="474.4"/>
<line x1="525.0" y1="462.0" x2="525.0" y2="474.0"/>
<line x1="526.4" y1="453.2" x2="526.4" y2="465.2"/>
<line x1="476.2" y1="507.6" x2="476.2" y2="525.0"/>
</g>
<rect x="119.8" y="438.2" width="5.2" height="5.2" fill="#aa00ff"/>
<circle cx="86.1" cy="76.8" r="2.65" fill="#3000ff"/>
<circle cx="86.5" cy="98.5" r="2.65" fill="#3000ff"/>
<circle cx="94.3" cy="85.3" r="2.65" fill="#aa00ff"/>
<rect x="103.8" y="86.8" width="5.2" height="5.2" fill="#aa00ff"/>
<circle cx="106.2" cy="102.6" r="2.65" fill="#aa00ff"/>
<rect x="110.6" y="69.0" width="5.2" height="5.2" fill="#ff00d2"/>
<circle cx="96.4" cy="133.0" r="2.65" fill="#3000ff"/>
<circle cx="97.5" cy="141.0" r="2.65" fill="#3000ff"/>
<circle cx="100.5" cy="140.7" r="2.65" fill="#3000ff"/>
<circle cx="98.4" cy="146.2" r="2.65" fill="#3000ff"/>
<circle cx="106.4" cy="138.5" r="2.65" fill="#3000ff"/>
<circle cx="101.6" cy="151.9" r="2.65" fill="#3000ff"/>
<circle cx="109.1" cy="151.5" r="2.65" fill="#3000ff"/>
<circle cx="107.8" cy="155.1" r="2.65" fill="#3000ff"/>
<circle cx="117.8" cy="159.8" r="2.65" fill="#aa00ff"/>
<polygon points="80.4,164.2 83.0,166.8 80.4,169.4 77.9,166.8" fill="#ff00d2"/>
<polygon points="80.0,177.5 82.5,180.1 80.0,182.7 77.5,180.1" fill="#ff00d2"/>
<rect x="94.0" y="172.7" width="5.2" height="5.2" fill="#ff00d2"/>
<rect x="73.2" y="200.7" width="5.2" height="5.2" fill="#ff00d2"/>
<rect x="58.6" y="254.4" width="5.2" height="5.2" fill="#ff00d2"/>
<circle cx="108.4" cy="284.8" r="2.65" fill="#3000ff"/>
<circle cx="88.4" cy="301.5" r="2.65" fill="#3000ff"/>
<circle cx="112.5" cy="168.5" r="2.65" fill="#3000ff"/>
<circle cx="114.0" cy="166.0" r="2.65" fill="#3000ff"/>
<circle cx="113.5" cy="174.0" r="2.65" fill="#3000ff"/>
<circle cx="116.0" cy="171.0" r="2.65" fill="#3000ff"/>
<circle cx="117.5" cy="177.0" r="2.65" fill="#3000ff"/>
<circle cx="119.7" cy="180.5" r="2.65" fill="#3000ff"/>
<circle cx="118.5" cy="184.0" r="2.65" fill="#3000ff"/>
<circle cx="121.5" cy="186.0" r="2.65" fill="#3000ff"/>
<circle cx="124.0" cy="189.0" r="2.65" fill="#3000ff"/>
<circle cx="126.5" cy="192.0" r="2.65" fill="#3000ff"/>
<circle cx="125.5" cy="196.0" r="2.65" fill="#3000ff"/>
<circle cx="125.6" cy="182.8" r="2.65" fill="#aa00ff"/>
<rect x="129.4" y="193.9" width="5.2" height="5.2" fill="#aa00ff"/>
<circle cx="123.3" cy="201.8" r="2.65" fill="#6a00f5"/>
<polygon points="140.6,206.8 143.2,209.3 140.6,211.9 138.0,209.3" fill="#ff00d2"/>
<rect x="129.1" y="213.3" width="5.2" height="5.2" fill="#ff00d2"/>
<circle cx="135.1" cy="221.6" r="2.65" fill="#3000ff"/>
<circle cx="143.8" cy="231.2" r="2.65" fill="#aa00ff"/>
<polygon points="154.8,217.3 157.4,219.9 154.8,222.5 152.2,219.9" fill="#ff00d2"/>
<rect x="149.4" y="231.4" width="5.2" height="5.2" fill="#ff00d2"/>
<rect x="152.9" y="237.8" width="5.2" height="5.2" fill="#ff00d2"/>
<rect x="148.0" y="239.6" width="5.2" height="5.2" fill="#aa00ff"/>
<rect x="154.9" y="230.7" width="5.2" height="5.2" fill="#aa00ff"/>
<rect x="131.6" y="244.1" width="5.2" height="5.2" fill="#6a00f5"/>
<rect x="143.7" y="245.9" width="5.2" height="5.2" fill="#6a00f5"/>
<circle cx="147.2" cy="253.5" r="2.65" fill="#3000ff"/>
<circle cx="145.1" cy="261.5" r="2.65" fill="#3000ff"/>
<circle cx="154.1" cy="270.4" r="2.65" fill="#3000ff"/>
<circle cx="157.6" cy="264.8" r="2.65" fill="#3000ff"/>
<circle cx="157.2" cy="268.7" r="2.65" fill="#3000ff"/>
<rect x="155.2" y="272.2" width="5.2" height="5.2" fill="#aa00ff"/>
<polygon points="156.3,163.6 158.9,166.2 156.3,168.8 153.8,166.2" fill="#ff00d2"/>
<circle cx="152.9" cy="179.1" r="2.65" fill="#ff0040"/>
<rect x="146.5" y="184.9" width="5.2" height="5.2" fill="#ff00d2"/>
<polygon points="165.9,190.2 168.5,192.8 165.9,195.4 163.3,192.8" fill="#ff00d2"/>
<polygon points="175.4,198.6 178.0,201.2 175.4,203.8 172.8,201.2" fill="#ff00d2"/>
<circle cx="183.3" cy="189.8" r="2.65" fill="#ff0040"/>
<polygon points="200.8,177.8 203.4,180.3 200.8,182.9 198.2,180.3" fill="#ff0040"/>
<polygon points="200.8,180.8 203.4,183.4 200.8,186.0 198.2,183.4" fill="#ff0040"/>
<polygon points="155.7,202.4 158.2,205.0 155.7,207.6 153.1,205.0" fill="#ff0096"/>
<rect x="170.1" y="209.7" width="5.2" height="5.2" fill="#ff00d2"/>
<rect x="180.7" y="216.8" width="5.2" height="5.2" fill="#ff00d2"/>
<rect x="167.4" y="222.9" width="5.2" height="5.2" fill="#ff00d2"/>
<polygon points="192.9,210.4 195.5,213.0 192.9,215.6 190.3,213.0" fill="#ff0096"/>
<rect x="197.8" y="211.8" width="5.2" height="5.2" fill="#ff00d2"/>
<rect x="190.2" y="219.5" width="5.2" height="5.2" fill="#ff00d2"/>
<rect x="198.2" y="218.3" width="5.2" height="5.2" fill="#ff00d2"/>
<polygon points="198.3,222.9 200.9,225.5 198.3,228.1 195.8,225.5" fill="#ff00d2"/>
<rect x="205.1" y="223.2" width="5.2" height="5.2" fill="#ff00d2"/>
<polygon points="206.0,228.1 208.6,230.7 206.0,233.2 203.4,230.7" fill="#ff00d2"/>
<rect x="214.2" y="223.2" width="5.2" height="5.2" fill="#aa00ff"/>
<polygon points="215.6,220.3 218.2,222.9 215.6,225.5 213.0,222.9" fill="#ff00d2"/>
<rect x="216.9" y="201.6" width="5.2" height="5.2" fill="#ff0096"/>
<circle cx="219.1" cy="218.7" r="2.65" fill="#ff00d2"/>
<polygon points="177.9,230.5 180.5,233.1 177.9,235.7 175.3,233.1" fill="#ff00d2"/>
<polygon points="239.0,161.6 241.6,164.2 239.0,166.8 236.4,164.2" fill="#ff0040"/>
<polygon points="239.0,164.0 241.6,166.6 239.0,169.2 236.4,166.6" fill="#ff0040"/>
<polygon points="271.3,151.4 273.9,154.0 271.3,156.6 268.8,154.0" fill="#ff0096"/>
<rect x="262.6" y="172.0" width="5.2" height="5.2" fill="#ff00d2"/>
<rect x="262.6" y="176.8" width="5.2" height="5.2" fill="#ff00d2"/>
<circle cx="267.5" cy="185.2" r="2.65" fill="#ff0040"/>
<rect x="224.9" y="198.6" width="5.2" height="5.2" fill="#ff00d2"/>
<polygon points="235.1,206.9 237.7,209.5 235.1,212.1 232.5,209.5" fill="#ff00d2"/>
<polygon points="252.3,203.1 254.9,205.7 252.3,208.2 249.8,205.7" fill="#ff00d2"/>
<polygon points="255.3,207.8 257.9,210.3 255.3,212.9 252.8,210.3" fill="#ff00d2"/>
<rect x="256.8" y="206.2" width="5.2" height="5.2" fill="#ff0096"/>
<circle cx="262.1" cy="205.0" r="2.65" fill="#aa00ff"/>
<circle cx="257.6" cy="213.3" r="2.65" fill="#3000ff"/>
<rect x="263.4" y="210.0" width="5.2" height="5.2" fill="#6a00f5"/>
<polygon points="261.4,215.3 263.9,217.9 261.4,220.5 258.8,217.9" fill="#aa00ff"/>
<polygon points="262.9,224.2 265.4,226.8 262.9,229.4 260.3,226.8" fill="#aa00ff"/>
<rect x="243.9" y="211.2" width="5.2" height="5.2" fill="#ff00d2"/>
<polygon points="227.9,212.2 230.5,214.8 227.9,217.4 225.3,214.8" fill="#ff0096"/>
<rect x="217.7" y="215.7" width="5.2" height="5.2" fill="#ff0096"/>
<rect x="213.9" y="222.1" width="5.2" height="5.2" fill="#ff00d2"/>
<polygon points="221.8,223.8 224.4,226.3 221.8,228.9 219.2,226.3" fill="#ff00d2"/>
<circle cx="242.4" cy="218.3" r="2.65" fill="#aa00ff"/>
<polygon points="240.9,220.2 243.5,222.8 240.9,225.4 238.3,222.8" fill="#ff00d2"/>
<circle cx="244.6" cy="225.7" r="2.65" fill="#3000ff"/>
<circle cx="228.8" cy="230.1" r="2.65" fill="#aa00ff"/>
<circle cx="223.1" cy="235.0" r="2.65" fill="#3000ff"/>
<circle cx="277.7" cy="193.3" r="2.65" fill="#3000ff"/>
<polygon points="276.6,186.2 279.4,191.2 273.8,191.2" fill="#ff00d2"/>
<polygon points="278.9,201.1 281.4,203.7 278.9,206.2 276.3,203.7" fill="#aa00ff"/>
<polygon points="293.3,202.0 295.9,204.6 293.3,207.2 290.8,204.6" fill="#aa00ff"/>
<polygon points="294.1,168.9 296.7,171.5 294.1,174.1 291.6,171.5" fill="#aa00ff"/>
<circle cx="294.4" cy="183.7" r="2.65" fill="#3000ff"/>
<circle cx="282.4" cy="219.9" r="2.65" fill="#3000ff"/>
<circle cx="289.0" cy="219.3" r="2.65" fill="#3000ff"/>
<circle cx="170.7" cy="246.7" r="2.65" fill="#ff00d2"/>
<circle cx="169.9" cy="256.0" r="2.65" fill="#3000ff"/>
<rect x="164.8" y="256.2" width="5.2" height="5.2" fill="#aa00ff"/>
<rect x="164.8" y="261.2" width="5.2" height="5.2" fill="#aa00ff"/>
<circle cx="166.9" cy="274.0" r="2.65" fill="#3000ff"/>
<circle cx="185.3" cy="255.4" r="2.65" fill="#3000ff"/>
<polygon points="188.6,258.3 191.2,260.9 188.6,263.4 186.0,260.9" fill="#aa00ff"/>
<polygon points="187.1,262.1 189.7,264.6 187.1,267.2 184.5,264.6" fill="#aa00ff"/>
<polygon points="186.4,265.8 189.0,268.4 186.4,270.9 183.8,268.4" fill="#aa00ff"/>
<circle cx="197.6" cy="256.4" r="2.65" fill="#aa00ff"/>
<circle cx="202.5" cy="250.7" r="2.65" fill="#aa00ff"/>
<polygon points="205.8,241.1 208.4,243.7 205.8,246.2 203.2,243.7" fill="#ff00d2"/>
<circle cx="205.0" cy="260.4" r="2.65" fill="#aa00ff"/>
<polygon points="207.0,258.4 209.6,261.0 207.0,263.6 204.4,261.0" fill="#aa00ff"/>
<rect x="202.7" y="274.7" width="5.2" height="5.2" fill="#aa00ff"/>
<circle cx="217.0" cy="262.4" r="2.65" fill="#aa00ff"/>
<circle cx="214.0" cy="272.6" r="2.65" fill="#aa00ff"/>
<circle cx="213.3" cy="268.8" r="2.65" fill="#3000ff"/>
<circle cx="218.3" cy="272.9" r="2.65" fill="#3000ff"/>
<circle cx="170.7" cy="281.1" r="2.65" fill="#3000ff"/>
<circle cx="174.4" cy="279.6" r="2.65" fill="#3000ff"/>
<circle cx="177.1" cy="278.5" r="2.65" fill="#3000ff"/>
<circle cx="175.9" cy="284.4" r="2.65" fill="#3000ff"/>
<circle cx="179.6" cy="287.8" r="2.65" fill="#3000ff"/>
<circle cx="182.6" cy="287.1" r="2.65" fill="#3000ff"/>
<circle cx="184.9" cy="289.0" r="2.65" fill="#3000ff"/>
<circle cx="177.4" cy="293.0" r="2.65" fill="#3000ff"/>
<circle cx="190.1" cy="294.5" r="2.65" fill="#3000ff"/>
<circle cx="195.6" cy="284.1" r="2.65" fill="#3000ff"/>
<circle cx="198.3" cy="289.0" r="2.65" fill="#3000ff"/>
<circle cx="199.5" cy="297.8" r="2.65" fill="#3000ff"/>
<circle cx="211.8" cy="290.3" r="2.65" fill="#3000ff"/>
<circle cx="217.4" cy="285.8" r="2.65" fill="#3000ff"/>
<circle cx="224.3" cy="284.8" r="2.65" fill="#3000ff"/>
<circle cx="226.2" cy="279.6" r="2.65" fill="#3000ff"/>
<circle cx="231.7" cy="275.4" r="2.65" fill="#3000ff"/>
<circle cx="242.7" cy="263.9" r="2.65" fill="#3000ff"/>
<circle cx="248.6" cy="259.4" r="2.65" fill="#3000ff"/>
<circle cx="251.6" cy="258.2" r="2.65" fill="#3000ff"/>
<circle cx="253.6" cy="253.7" r="2.65" fill="#3000ff"/>
<circle cx="262.4" cy="246.7" r="2.65" fill="#3000ff"/>
<circle cx="276.3" cy="233.2" r="2.65" fill="#3000ff"/>
<circle cx="277.4" cy="231.0" r="2.65" fill="#3000ff"/>
<polygon points="237.1,266.8 239.7,269.4 237.1,271.9 234.5,269.4" fill="#aa00ff"/>
<rect x="214.2" y="259.8" width="5.2" height="5.2" fill="#aa00ff"/>
<rect x="218.4" y="259.8" width="5.2" height="5.2" fill="#aa00ff"/>
<circle cx="230.3" cy="259.8" r="2.65" fill="#3000ff"/>
<rect x="221.7" y="249.3" width="5.2" height="5.2" fill="#aa00ff"/>
<polygon points="234.9,241.5 237.5,244.1 234.9,246.7 232.3,244.1" fill="#aa00ff"/>
<circle cx="249.7" cy="242.2" r="2.65" fill="#3000ff"/>
<polygon points="278.4,115.4 280.9,117.9 278.4,120.5 275.8,117.9" fill="#ff0040"/>
<polygon points="278.4,120.9 280.9,123.4 278.4,126.0 275.8,123.4" fill="#ff0040"/>
<polygon points="298.7,111.8 301.2,114.3 298.7,116.8 296.1,114.3" fill="#ff0096"/>
<polygon points="297.6,129.4 300.2,132.0 297.6,134.6 295.1,132.0" fill="#ff0040"/>
<rect x="294.8" y="135.4" width="5.2" height="5.2" fill="#ff0040"/>
<polygon points="314.9,112.9 317.4,115.4 314.9,118.0 312.3,115.4" fill="#ff0096"/>
<rect x="313.9" y="126.5" width="5.2" height="5.2" fill="#ff0096"/>
<rect x="343.1" y="78.6" width="5.2" height="5.2" fill="#ff00d2"/>
<polygon points="363.7,89.0 366.2,91.5 363.7,94.0 361.1,91.5" fill="#ff0096"/>
<rect x="361.8" y="103.7" width="5.2" height="5.2" fill="#ff0096"/>
<rect x="356.6" y="105.5" width="5.2" height="5.2" fill="#ff00d2"/>
<polygon points="374.2,62.2 376.8,64.8 374.2,67.3 371.6,64.8" fill="#ff0040"/>
<rect x="374.4" y="66.3" width="5.2" height="5.2" fill="#ff00d2"/>
<rect x="377.8" y="87.7" width="5.2" height="5.2" fill="#ff00d2"/>
<polygon points="374.0,107.9 376.6,110.4 374.0,113.0 371.4,110.4" fill="#ff00d2"/>
<rect x="360.2" y="119.7" width="5.2" height="5.2" fill="#aa00ff"/>
<rect x="358.0" y="130.5" width="5.2" height="5.2" fill="#aa00ff"/>
<circle cx="337.0" cy="135.1" r="2.65" fill="#aa00ff"/>
<circle cx="312.9" cy="144.7" r="2.65" fill="#aa00ff"/>
<rect x="327.0" y="142.1" width="5.2" height="5.2" fill="#aa00ff"/>
<rect x="345.5" y="138.0" width="5.2" height="5.2" fill="#aa00ff"/>
<rect x="345.9" y="145.9" width="5.2" height="5.2" fill="#ff0096"/>
<polygon points="357.2,142.1 359.8,144.7 357.2,147.2 354.6,144.7" fill="#aa00ff"/>
<polygon points="356.7,145.2 359.2,147.8 356.7,150.4 354.1,147.8" fill="#aa00ff"/>
<circle cx="326.1" cy="153.2" r="2.65" fill="#aa00ff"/>
<circle cx="328.9" cy="157.1" r="2.65" fill="#3000ff"/>
<polygon points="335.7,151.6 338.2,154.2 335.7,156.8 333.1,154.2" fill="#aa00ff"/>
<circle cx="367.7" cy="146.5" r="2.65" fill="#3000ff"/>
<circle cx="365.8" cy="149.7" r="2.65" fill="#3000ff"/>
<circle cx="369.4" cy="149.2" r="2.65" fill="#3000ff"/>
<circle cx="364.0" cy="154.3" r="2.65" fill="#3000ff"/>
<circle cx="364.5" cy="156.6" r="2.65" fill="#3000ff"/>
<circle cx="373.5" cy="140.0" r="2.65" fill="#3000ff"/>
<circle cx="365.3" cy="165.0" r="2.65" fill="#3000ff"/>
<circle cx="379.7" cy="119.5" r="2.65" fill="#3000ff"/>
<polygon points="377.4,131.1 379.9,133.7 377.4,136.2 374.8,133.7" fill="#aa00ff"/>
<polygon points="387.9,114.7 390.4,117.2 387.9,119.8 385.3,117.2" fill="#aa00ff"/>
<rect x="386.4" y="104.4" width="5.2" height="5.2" fill="#aa00ff"/>
<circle cx="388.8" cy="134.3" r="2.65" fill="#3000ff"/>
<circle cx="391.8" cy="132.7" r="2.65" fill="#3000ff"/>
<polygon points="391.8,126.5 394.4,129.1 391.8,131.7 389.2,129.1" fill="#ff00d2"/>
<polygon points="395.5,91.7 398.1,94.2 395.5,96.8 392.9,94.2" fill="#ff00d2"/>
<rect x="394.4" y="100.4" width="5.2" height="5.2" fill="#aa00ff"/>
<rect x="395.0" y="96.2" width="5.2" height="5.2" fill="#ff0096"/>
<circle cx="393.4" cy="105.8" r="2.65" fill="#3000ff"/>
<circle cx="299.4" cy="161.2" r="2.65" fill="#aa00ff"/>
<polygon points="345.5,158.9 348.1,161.5 345.5,164.1 342.9,161.5" fill="#ff00d2"/>
<polygon points="332.6,160.9 335.2,163.5 332.6,166.1 330.1,163.5" fill="#ff00d2"/>
<circle cx="340.2" cy="167.0" r="2.65" fill="#3000ff"/>
<rect x="308.7" y="160.1" width="5.2" height="5.2" fill="#aa00ff"/>
<polygon points="294.6,168.2 297.2,170.8 294.6,173.4 292.1,170.8" fill="#ff00d2"/>
<polygon points="295.8,176.1 298.4,178.7 295.8,181.2 293.2,178.7" fill="#ff00d2"/>
<circle cx="299.1" cy="173.3" r="2.65" fill="#aa00ff"/>
<rect x="301.8" y="168.8" width="5.2" height="5.2" fill="#aa00ff"/>
<polygon points="311.0,168.8 313.6,171.4 311.0,174.0 308.4,171.4" fill="#ff0096"/>
<circle cx="301.4" cy="175.6" r="2.65" fill="#3000ff"/>
<circle cx="309.8" cy="172.6" r="2.65" fill="#3000ff"/>
<circle cx="319.4" cy="173.3" r="2.65" fill="#3000ff"/>
<circle cx="327.3" cy="174.9" r="2.65" fill="#3000ff"/>
<circle cx="326.5" cy="177.9" r="2.65" fill="#3000ff"/>
<circle cx="318.9" cy="183.5" r="2.65" fill="#3000ff"/>
<circle cx="295.0" cy="183.2" r="2.65" fill="#3000ff"/>
<polygon points="295.8,185.8 298.4,188.3 295.8,190.9 293.2,188.3" fill="#aa00ff"/>
<circle cx="306.7" cy="193.9" r="2.65" fill="#3000ff"/>
<circle cx="306.0" cy="198.1" r="2.65" fill="#3000ff"/>
<rect x="318.3" y="189.5" width="5.2" height="5.2" fill="#aa00ff"/>
<rect x="340.2" y="179.9" width="5.2" height="5.2" fill="#aa00ff"/>
<rect x="303.1" y="204.7" width="5.2" height="5.2" fill="#aa00ff"/>
<polygon points="398.0,51.0 400.6,53.5 398.0,56.0 395.4,53.5" fill="#ff0096"/>
<rect x="401.1" y="46.9" width="5.2" height="5.2" fill="#ff00d2"/>
<rect x="432.7" y="22.9" width="5.2" height="5.2" fill="#ff00d2"/>
<rect x="455.1" y="33.5" width="5.2" height="5.2" fill="#ff00d2"/>
<polygon points="411.0,72.5 413.6,75.0 411.0,77.5 408.4,75.0" fill="#aa00ff"/>
<rect x="438.8" y="57.3" width="5.2" height="5.2" fill="#aa00ff"/>
<rect x="430.7" y="72.0" width="5.2" height="5.2" fill="#6a00f5"/>
<circle cx="452.3" cy="73.6" r="2.65" fill="#3000ff"/>
<rect x="458.8" y="68.8" width="5.2" height="5.2" fill="#ff00d2"/>
<polygon points="465.3,68.8 467.9,71.3 465.3,73.8 462.8,71.3" fill="#ff00d2"/>
<polygon points="470.6,56.9 473.2,59.4 470.6,61.9 468.1,59.4" fill="#aa00ff"/>
<circle cx="446.0" cy="89.1" r="2.65" fill="#3000ff"/>
<circle cx="444.9" cy="92.9" r="2.65" fill="#3000ff"/>
<circle cx="455.8" cy="85.6" r="2.65" fill="#3000ff"/>
<circle cx="456.3" cy="88.0" r="2.65" fill="#3000ff"/>
<circle cx="464.3" cy="85.4" r="2.65" fill="#3000ff"/>
<circle cx="473.5" cy="83.0" r="2.65" fill="#3000ff"/>
<polygon points="450.5,86.9 453.1,89.4 450.5,92.0 447.9,89.4" fill="#ff00d2"/>
<rect x="415.7" y="86.5" width="5.2" height="5.2" fill="#6a00f5"/>
<circle cx="415.8" cy="92.9" r="2.65" fill="#aa00ff"/>
<polygon points="431.5,89.5 434.1,92.1 431.5,94.6 428.9,92.1" fill="#aa00ff"/>
<rect x="402.7" y="95.3" width="5.2" height="5.2" fill="#aa00ff"/>
<circle cx="427.7" cy="103.0" r="2.65" fill="#3000ff"/>
<circle cx="426.2" cy="105.8" r="2.65" fill="#3000ff"/>
<circle cx="422.3" cy="106.4" r="2.65" fill="#3000ff"/>
<rect x="487.2" y="34.7" width="5.2" height="5.2" fill="#6a00f5"/>
<rect x="485.6" y="34.7" width="5.2" height="5.2" fill="#ff00d2"/>
<circle cx="483.6" cy="43.8" r="2.65" fill="#aa00ff"/>
<circle cx="502.6" cy="48.4" r="2.65" fill="#aa00ff"/>
<circle cx="479.3" cy="79.1" r="2.65" fill="#3000ff"/>
<circle cx="485.9" cy="74.5" r="2.65" fill="#3000ff"/>
<circle cx="491.5" cy="75.6" r="2.65" fill="#3000ff"/>
<circle cx="492.6" cy="78.0" r="2.65" fill="#3000ff"/>
<circle cx="502.6" cy="74.1" r="2.65" fill="#3000ff"/>
<circle cx="508.2" cy="72.7" r="2.65" fill="#3000ff"/>
<circle cx="507.2" cy="74.5" r="2.65" fill="#3000ff"/>
<circle cx="512.0" cy="77.6" r="2.65" fill="#3000ff"/>
<circle cx="517.4" cy="73.3" r="2.65" fill="#3000ff"/>
<circle cx="523.0" cy="72.5" r="2.65" fill="#3000ff"/>
<circle cx="525.3" cy="82.1" r="2.65" fill="#3000ff"/>
<rect x="494.7" y="73.9" width="5.2" height="5.2" fill="#aa00ff"/>
<polygon points="504.4,84.9 506.9,87.4 504.4,90.0 501.8,87.4" fill="#ff00d2"/>
<rect x="473.6" y="87.1" width="5.2" height="5.2" fill="#aa00ff"/>
<rect x="477.2" y="85.7" width="5.2" height="5.2" fill="#aa00ff"/>
<rect x="420.7" y="127.6" width="5.2" height="5.2" fill="#aa00ff"/>
<polygon points="413.3,118.5 415.9,121.0 413.3,123.5 410.8,121.0" fill="#ff00d2"/>
<circle cx="411.2" cy="114.8" r="2.65" fill="#3000ff"/>
<circle cx="422.5" cy="112.0" r="2.65" fill="#aa00ff"/>
<rect x="437.7" y="106.7" width="5.2" height="5.2" fill="#aa00ff"/>
<polygon points="93.7,391.9 96.2,394.5 93.7,397.1 91.2,394.5" fill="#ff00d2"/>
<polygon points="80.4,437.6 83.0,440.2 80.4,442.8 77.9,440.2" fill="#ff00d2"/>
<polygon points="79.9,447.4 82.5,450.0 79.9,452.6 77.4,450.0" fill="#ff00d2"/>
<rect x="129.5" y="391.9" width="5.2" height="5.2" fill="#aa00ff"/>
<rect x="146.5" y="407.9" width="5.2" height="5.2" fill="#ff00d2"/>
<circle cx="98.3" cy="408.3" r="2.65" fill="#3000ff"/>
<circle cx="101.5" cy="407.3" r="2.65" fill="#3000ff"/>
<circle cx="96.4" cy="420.9" r="2.65" fill="#3000ff"/>
<circle cx="97.6" cy="426.1" r="2.65" fill="#3000ff"/>
<circle cx="100.1" cy="444.8" r="2.65" fill="#3000ff"/>
<circle cx="106.6" cy="425.0" r="2.65" fill="#3000ff"/>
<circle cx="109.0" cy="418.4" r="2.65" fill="#3000ff"/>
<circle cx="111.7" cy="420.8" r="2.65" fill="#3000ff"/>
<circle cx="113.3" cy="426.2" r="2.65" fill="#3000ff"/>
<circle cx="117.7" cy="416.0" r="2.65" fill="#3000ff"/>
<circle cx="120.1" cy="417.9" r="2.65" fill="#3000ff"/>
<circle cx="116.9" cy="424.8" r="2.65" fill="#3000ff"/>
<circle cx="118.7" cy="425.0" r="2.65" fill="#3000ff"/>
<circle cx="121.2" cy="425.4" r="2.65" fill="#3000ff"/>
<circle cx="124.8" cy="425.3" r="2.65" fill="#3000ff"/>
<circle cx="115.5" cy="433.2" r="2.65" fill="#3000ff"/>
<circle cx="117.5" cy="437.6" r="2.65" fill="#3000ff"/>
<circle cx="127.3" cy="431.3" r="2.65" fill="#3000ff"/>
<circle cx="123.5" cy="437.5" r="2.65" fill="#3000ff"/>
<circle cx="126.1" cy="439.0" r="2.65" fill="#3000ff"/>
<circle cx="124.5" cy="451.2" r="2.65" fill="#3000ff"/>
<polygon points="133.6,426.8 136.2,429.4 133.6,431.9 131.0,429.4" fill="#ff00d2"/>
<rect x="128.8" y="434.9" width="5.2" height="5.2" fill="#ff00d2"/>
<polygon points="140.5,440.2 143.1,442.8 140.5,445.4 137.9,442.8" fill="#ff00d2"/>
<rect x="147.9" y="436.6" width="5.2" height="5.2" fill="#aa00ff"/>
<rect x="155.2" y="444.4" width="5.2" height="5.2" fill="#aa00ff"/>
<circle cx="144.1" cy="453.4" r="2.65" fill="#aa00ff"/>
<rect x="93.9" y="453.0" width="5.2" height="5.2" fill="#ff00d2"/>
<rect x="152.8" y="456.9" width="5.2" height="5.2" fill="#ff00d2"/>
<rect x="149.4" y="462.9" width="5.2" height="5.2" fill="#ff00d2"/>
<rect x="73.2" y="467.4" width="5.2" height="5.2" fill="#ff00d2"/>
<rect x="58.6" y="541.8" width="5.2" height="5.2" fill="#ff00d2"/>
<circle cx="108.4" cy="566.5" r="2.65" fill="#3000ff"/>
<circle cx="145.2" cy="531.2" r="2.65" fill="#3000ff"/>
<circle cx="147.2" cy="502.7" r="2.65" fill="#3000ff"/>
<rect x="143.7" y="476.7" width="5.2" height="5.2" fill="#6a00f5"/>
<circle cx="153.6" cy="526.1" r="2.65" fill="#3000ff"/>
<circle cx="157.5" cy="521.2" r="2.65" fill="#3000ff"/>
<circle cx="157.9" cy="528.2" r="2.65" fill="#3000ff"/>
<rect x="155.3" y="500.7" width="5.2" height="5.2" fill="#6a00f5"/>
<polygon points="175.1,369.6 177.7,372.2 175.1,374.8 172.5,372.2" fill="#ff00d2"/>
<polygon points="206.4,377.6 209.0,380.2 206.4,382.8 203.8,380.2" fill="#ff00d2"/>
<polygon points="200.6,405.8 203.2,408.3 200.6,410.9 198.0,408.3" fill="#ff0040"/>
<polygon points="200.6,408.6 203.2,411.2 200.6,413.8 198.0,411.2" fill="#ff0040"/>
<polygon points="239.0,412.9 241.6,415.5 239.0,418.1 236.4,415.5" fill="#ff0040"/>
<polygon points="239.0,415.4 241.6,418.0 239.0,420.6 236.4,418.0" fill="#ff0040"/>
<polygon points="255.5,407.4 258.1,410.0 255.5,412.6 252.9,410.0" fill="#ff0040"/>
<rect x="180.9" y="411.8" width="5.2" height="5.2" fill="#ff00d2"/>
<polygon points="228.0,429.1 230.6,431.6 228.0,434.2 225.4,431.6" fill="#ff00d2"/>
<rect x="170.0" y="437.4" width="5.2" height="5.2" fill="#ff0096"/>
<rect x="167.3" y="451.5" width="5.2" height="5.2" fill="#ff0096"/>
<rect x="190.3" y="444.9" width="5.2" height="5.2" fill="#ff0096"/>
<rect x="198.2" y="447.4" width="5.2" height="5.2" fill="#ff0096"/>
<rect x="205.2" y="444.9" width="5.2" height="5.2" fill="#ff00d2"/>
<polygon points="217.7,442.6 220.2,445.2 217.7,447.8 215.1,445.2" fill="#ff00d2"/>
<rect x="213.8" y="453.1" width="5.2" height="5.2" fill="#aa00ff"/>
<rect x="217.7" y="451.7" width="5.2" height="5.2" fill="#ff0096"/>
<polygon points="222.5,459.9 225.1,462.5 222.5,465.1 219.9,462.5" fill="#ff00d2"/>
<rect x="233.2" y="457.8" width="5.2" height="5.2" fill="#ff00d2"/>
<rect x="243.2" y="458.8" width="5.2" height="5.2" fill="#ff00d2"/>
<polygon points="252.2,458.8 254.8,461.4 252.2,463.9 249.6,461.4" fill="#ff00d2"/>
<polygon points="255.3,461.9 257.9,464.5 255.3,467.1 252.8,464.5" fill="#ff00d2"/>
<polygon points="240.5,465.4 243.1,468.0 240.5,470.6 237.9,468.0" fill="#ff00d2"/>
<rect x="250.3" y="467.5" width="5.2" height="5.2" fill="#ff0096"/>
<rect x="256.0" y="444.4" width="5.2" height="5.2" fill="#ff0096"/>
<rect x="262.7" y="440.5" width="5.2" height="5.2" fill="#ff00d2"/>
<rect x="262.7" y="444.4" width="5.2" height="5.2" fill="#ff00d2"/>
<circle cx="167.7" cy="469.2" r="2.65" fill="#aa00ff"/>
<polygon points="170.5,469.8 173.1,472.4 170.5,474.9 167.9,472.4" fill="#ff00d2"/>
<rect x="197.6" y="465.4" width="5.2" height="5.2" fill="#ff00d2"/>
<polygon points="197.9,467.8 200.5,470.3 197.9,472.9 195.3,470.3" fill="#ff00d2"/>
<polygon points="206.2,468.6 208.8,471.2 206.2,473.8 203.6,471.2" fill="#ff00d2"/>
<polygon points="214.8,472.8 217.4,475.3 214.8,477.9 212.2,475.3" fill="#ff00d2"/>
<rect x="185.0" y="475.3" width="5.2" height="5.2" fill="#aa00ff"/>
<rect x="225.0" y="476.8" width="5.2" height="5.2" fill="#ff00d2"/>
<polygon points="234.9,475.3 237.5,477.9 234.9,480.4 232.3,477.9" fill="#ff00d2"/>
<polygon points="177.7,481.8 180.2,484.4 177.7,486.9 175.1,484.4" fill="#ff00d2"/>
<circle cx="188.3" cy="490.8" r="2.65" fill="#aa00ff"/>
<rect x="202.2" y="481.8" width="5.2" height="5.2" fill="#aa00ff"/>
<circle cx="202.2" cy="496.2" r="2.65" fill="#aa00ff"/>
<rect x="221.9" y="492.5" width="5.2" height="5.2" fill="#aa00ff"/>
<circle cx="229.0" cy="497.7" r="2.65" fill="#aa00ff"/>
<circle cx="185.3" cy="510.6" r="2.65" fill="#3000ff"/>
<polygon points="185.7,511.2 188.2,513.7 185.7,516.2 183.1,513.7" fill="#aa00ff"/>
<polygon points="206.3,506.2 208.9,508.8 206.3,511.4 203.8,508.8" fill="#aa00ff"/>
<circle cx="223.0" cy="512.1" r="2.65" fill="#3000ff"/>
<polygon points="229.8,505.8 232.4,508.3 229.8,510.9 227.2,508.3" fill="#aa00ff"/>
<circle cx="153.4" cy="525.9" r="2.65" fill="#3000ff"/>
<rect x="172.8" y="524.1" width="5.2" height="5.2" fill="#6a00f5"/>
<rect x="202.7" y="525.5" width="5.2" height="5.2" fill="#6a00f5"/>
<rect x="218.3" y="520.7" width="5.2" height="5.2" fill="#6a00f5"/>
<polygon points="277.8,440.6 280.4,443.2 277.8,445.8 275.2,443.2" fill="#ff00d2"/>
<polygon points="270.9,448.8 273.4,451.3 270.9,453.9 268.3,451.3" fill="#ff0096"/>
<polygon points="277.5,451.1 280.1,453.6 277.5,456.2 274.9,453.6" fill="#aa00ff"/>
<polygon points="298.8,435.1 301.4,437.6 298.8,440.2 296.2,437.6" fill="#ff0096"/>
<polygon points="294.5,445.8 297.1,448.3 294.5,450.9 291.9,448.3" fill="#ff00d2"/>
<polygon points="295.7,451.8 298.2,454.4 295.7,456.9 293.1,454.4" fill="#aa00ff"/>
<polygon points="276.7,470.1 279.2,472.6 276.7,475.2 274.1,472.6" fill="#ff00d2"/>
<circle cx="299.5" cy="478.5" r="2.65" fill="#aa00ff"/>
<circle cx="301.6" cy="490.8" r="2.65" fill="#3000ff"/>
<rect x="302.3" y="488.6" width="5.2" height="5.2" fill="#6a00f5"/>
<polygon points="296.0,492.1 298.6,494.6 296.0,497.2 293.4,494.6" fill="#aa00ff"/>
<circle cx="241.0" cy="500.3" r="2.65" fill="#aa00ff"/>
<polygon points="234.9,501.9 237.5,504.5 234.9,507.1 232.3,504.5" fill="#aa00ff"/>
<polygon points="261.2,497.1 263.8,499.7 261.2,502.2 258.6,499.7" fill="#aa00ff"/>
<polygon points="277.8,497.4 280.4,500.0 277.8,502.6 275.2,500.0" fill="#aa00ff"/>
<circle cx="230.6" cy="507.6" r="2.65" fill="#aa00ff"/>
<circle cx="231.4" cy="510.6" r="2.65" fill="#aa00ff"/>
<polygon points="231.8,511.8 234.4,514.4 231.8,516.9 229.2,514.4" fill="#aa00ff"/>
<rect x="275.2" y="507.2" width="5.2" height="5.2" fill="#aa00ff"/>
<circle cx="277.6" cy="514.5" r="2.65" fill="#3000ff"/>
<rect x="263.5" y="512.6" width="5.2" height="5.2" fill="#6a00f5"/>
<circle cx="257.5" cy="517.1" r="2.65" fill="#3000ff"/>
<circle cx="244.8" cy="519.5" r="2.65" fill="#3000ff"/>
<circle cx="295.2" cy="518.3" r="2.65" fill="#3000ff"/>
<circle cx="299.6" cy="517.4" r="2.65" fill="#aa00ff"/>
<polygon points="293.3,524.4 295.9,526.9 293.3,529.4 290.8,526.9" fill="#aa00ff"/>
<circle cx="304.0" cy="508.3" r="2.65" fill="#aa00ff"/>
<circle cx="170.0" cy="532.2" r="2.65" fill="#3000ff"/>
<circle cx="167.1" cy="543.6" r="2.65" fill="#3000ff"/>
<circle cx="170.9" cy="549.7" r="2.65" fill="#3000ff"/>
<circle cx="173.8" cy="550.3" r="2.65" fill="#3000ff"/>
<circle cx="176.0" cy="555.8" r="2.65" fill="#3000ff"/>
<circle cx="174.7" cy="557.6" r="2.65" fill="#3000ff"/>
<circle cx="177.3" cy="559.1" r="2.65" fill="#3000ff"/>
<circle cx="179.8" cy="559.1" r="2.65" fill="#3000ff"/>
<circle cx="181.1" cy="565.5" r="2.65" fill="#3000ff"/>
<circle cx="183.3" cy="568.2" r="2.65" fill="#3000ff"/>
<circle cx="183.0" cy="571.0" r="2.65" fill="#3000ff"/>
<circle cx="190.2" cy="572.8" r="2.65" fill="#3000ff"/>
<circle cx="191.7" cy="576.6" r="2.65" fill="#3000ff"/>
<circle cx="195.5" cy="572.8" r="2.65" fill="#3000ff"/>
<circle cx="197.8" cy="576.6" r="2.65" fill="#3000ff"/>
<circle cx="198.3" cy="580.1" r="2.65" fill="#3000ff"/>
<circle cx="199.6" cy="582.7" r="2.65" fill="#3000ff"/>
<circle cx="202.4" cy="581.5" r="2.65" fill="#3000ff"/>
<circle cx="204.9" cy="581.9" r="2.65" fill="#3000ff"/>
<circle cx="211.5" cy="581.9" r="2.65" fill="#3000ff"/>
<circle cx="217.6" cy="579.6" r="2.65" fill="#3000ff"/>
<circle cx="186.4" cy="569.0" r="2.65" fill="#aa00ff"/>
<circle cx="197.5" cy="569.8" r="2.65" fill="#aa00ff"/>
<circle cx="177.6" cy="577.8" r="2.65" fill="#3000ff"/>
<polygon points="262.9,527.7 265.4,530.2 262.9,532.8 260.3,530.2" fill="#aa00ff"/>
<circle cx="262.1" cy="541.6" r="2.65" fill="#aa00ff"/>
<circle cx="280.4" cy="536.3" r="2.65" fill="#aa00ff"/>
<circle cx="243.4" cy="556.8" r="2.65" fill="#aa00ff"/>
<circle cx="249.5" cy="553.3" r="2.65" fill="#6a00f5"/>
<circle cx="230.2" cy="568.2" r="2.65" fill="#3000ff"/>
<circle cx="224.4" cy="580.7" r="2.65" fill="#3000ff"/>
<circle cx="226.9" cy="579.6" r="2.65" fill="#3000ff"/>
<circle cx="231.7" cy="578.1" r="2.65" fill="#3000ff"/>
<circle cx="242.1" cy="576.6" r="2.65" fill="#3000ff"/>
<circle cx="243.9" cy="575.1" r="2.65" fill="#3000ff"/>
<circle cx="247.7" cy="571.0" r="2.65" fill="#3000ff"/>
<circle cx="248.8" cy="574.8" r="2.65" fill="#3000ff"/>
<circle cx="252.3" cy="573.6" r="2.65" fill="#3000ff"/>
<circle cx="253.8" cy="569.8" r="2.65" fill="#3000ff"/>
<circle cx="262.6" cy="570.5" r="2.65" fill="#3000ff"/>
<circle cx="276.6" cy="564.9" r="2.65" fill="#3000ff"/>
<circle cx="277.4" cy="563.7" r="2.65" fill="#3000ff"/>
<circle cx="282.4" cy="561.7" r="2.65" fill="#3000ff"/>
<circle cx="288.8" cy="553.1" r="2.65" fill="#3000ff"/>
<polygon points="278.6,389.4 281.2,392.0 278.6,394.6 276.1,392.0" fill="#ff0040"/>
<polygon points="278.6,393.6 281.2,396.2 278.6,398.8 276.1,396.2" fill="#ff0040"/>
<polygon points="297.9,384.9 300.4,387.5 297.9,390.1 295.3,387.5" fill="#ff0040"/>
<polygon points="297.9,388.6 300.4,391.1 297.9,393.7 295.3,391.1" fill="#ff0040"/>
<polygon points="374.0,345.2 376.6,347.8 374.0,350.4 371.4,347.8" fill="#ff0040"/>
<polygon points="374.0,348.6 376.6,351.2 374.0,353.8 371.4,351.2" fill="#ff0040"/>
<polygon points="390.5,377.9 393.1,380.5 390.5,383.1 387.9,380.5" fill="#ff0040"/>
<rect x="374.2" y="377.9" width="5.2" height="5.2" fill="#ff00d2"/>
<rect x="356.6" y="390.9" width="5.2" height="5.2" fill="#ff00d2"/>
<rect x="377.6" y="397.3" width="5.2" height="5.2" fill="#ff00d2"/>
<rect x="400.4" y="401.4" width="5.2" height="5.2" fill="#ff00d2"/>
<rect x="402.7" y="398.4" width="5.2" height="5.2" fill="#aa00ff"/>
<rect x="433.1" y="373.3" width="5.2" height="5.2" fill="#ff00d2"/>
<rect x="438.9" y="412.8" width="5.2" height="5.2" fill="#aa00ff"/>
<rect x="342.9" y="416.6" width="5.2" height="5.2" fill="#ff00d2"/>
<rect x="327.2" y="422.8" width="5.2" height="5.2" fill="#aa00ff"/>
<rect x="345.3" y="422.8" width="5.2" height="5.2" fill="#aa00ff"/>
<rect x="360.5" y="416.0" width="5.2" height="5.2" fill="#aa00ff"/>
<rect x="386.3" y="421.2" width="5.2" height="5.2" fill="#aa00ff"/>
<circle cx="416.3" cy="424.5" r="2.65" fill="#aa00ff"/>
<rect x="394.4" y="435.7" width="5.2" height="5.2" fill="#6a00f5"/>
<rect x="415.7" y="432.1" width="5.2" height="5.2" fill="#6a00f5"/>
<polygon points="415.6,435.4 418.2,438.0 415.6,440.6 413.1,438.0" fill="#aa00ff"/>
<polygon points="413.5,438.4 416.1,441.0 413.5,443.6 410.9,441.0" fill="#ff00d2"/>
<rect x="430.6" y="430.9" width="5.2" height="5.2" fill="#6a00f5"/>
<polygon points="431.5,440.8 434.1,443.3 431.5,445.9 428.9,443.3" fill="#aa00ff"/>
<polygon points="395.0,442.3 397.6,444.9 395.0,447.4 392.4,444.9" fill="#ff00d2"/>
<polygon points="391.7,447.3 394.2,449.9 391.7,452.4 389.1,449.9" fill="#ff00d2"/>
<polygon points="388.3,451.6 390.9,454.2 388.3,456.8 385.8,454.2" fill="#aa00ff"/>
<rect x="394.8" y="449.2" width="5.2" height="5.2" fill="#ff0096"/>
<polygon points="374.0,448.2 376.6,450.8 374.0,453.4 371.4,450.8" fill="#ff00d2"/>
<polygon points="315.1,429.6 317.7,432.1 315.1,434.7 312.6,432.1" fill="#ff0096"/>
<rect x="308.7" y="434.9" width="5.2" height="5.2" fill="#aa00ff"/>
<polygon points="295.0,446.1 297.6,448.6 295.0,451.2 292.4,448.6" fill="#ff00d2"/>
<polygon points="332.4,454.3 334.9,456.9 332.4,459.4 329.8,456.9" fill="#ff00d2"/>
<rect x="345.7" y="456.6" width="5.2" height="5.2" fill="#ff0096"/>
<polygon points="345.3,462.6 347.9,465.1 345.3,467.7 342.8,465.1" fill="#ff00d2"/>
<rect x="358.1" y="458.9" width="5.2" height="5.2" fill="#6a00f5"/>
<polygon points="356.3,463.4 358.9,466.0 356.3,468.6 353.8,466.0" fill="#aa00ff"/>
<rect x="361.6" y="465.5" width="5.2" height="5.2" fill="#ff0096"/>
<polygon points="373.3,462.2 375.9,464.8 373.3,467.4 370.8,464.8" fill="#aa00ff"/>
<circle cx="374.0" cy="470.2" r="2.65" fill="#3000ff"/>
<rect x="313.7" y="465.0" width="5.2" height="5.2" fill="#ff0096"/>
<polygon points="318.9,467.3 321.4,469.9 318.9,472.4 316.3,469.9" fill="#aa00ff"/>
<polygon points="311.3,469.9 313.9,472.5 311.3,475.1 308.8,472.5" fill="#ff00d2"/>
<circle cx="326.2" cy="475.2" r="2.65" fill="#aa00ff"/>
<polygon points="335.3,471.8 337.9,474.4 335.3,476.9 332.8,474.4" fill="#aa00ff"/>
<circle cx="319.3" cy="482.0" r="2.65" fill="#3000ff"/>
<circle cx="364.2" cy="492.7" r="2.65" fill="#3000ff"/>
<circle cx="365.3" cy="499.5" r="2.65" fill="#3000ff"/>
<circle cx="363.8" cy="508.1" r="2.65" fill="#3000ff"/>
<circle cx="375.4" cy="495.7" r="2.65" fill="#3000ff"/>
<circle cx="336.8" cy="499.1" r="2.65" fill="#aa00ff"/>
<rect x="340.3" y="496.2" width="5.2" height="5.2" fill="#aa00ff"/>
<circle cx="347.8" cy="499.2" r="2.65" fill="#3000ff"/>
<circle cx="327.7" cy="503.0" r="2.65" fill="#3000ff"/>
<circle cx="329.2" cy="501.8" r="2.65" fill="#3000ff"/>
<rect x="318.3" y="502.7" width="5.2" height="5.2" fill="#aa00ff"/>
<polygon points="357.1,500.9 359.7,503.5 357.1,506.1 354.6,503.5" fill="#aa00ff"/>
<rect x="303.1" y="505.8" width="5.2" height="5.2" fill="#aa00ff"/>
<circle cx="312.9" cy="510.5" r="2.65" fill="#aa00ff"/>
<circle cx="310.3" cy="518.0" r="2.65" fill="#3000ff"/>
<circle cx="340.3" cy="521.2" r="2.65" fill="#3000ff"/>
<circle cx="326.6" cy="525.0" r="2.65" fill="#3000ff"/>
<circle cx="306.3" cy="542.6" r="2.65" fill="#3000ff"/>
<circle cx="307.0" cy="541.0" r="2.65" fill="#3000ff"/>
<circle cx="319.1" cy="529.2" r="2.65" fill="#3000ff"/>
<circle cx="446.0" cy="448.2" r="2.65" fill="#3000ff"/>
<rect x="443.4" y="451.0" width="5.2" height="5.2" fill="#ff0096"/>
<rect x="437.8" y="456.8" width="5.2" height="5.2" fill="#aa00ff"/>
<circle cx="427.6" cy="463.0" r="2.65" fill="#3000ff"/>
<rect x="420.6" y="462.5" width="5.2" height="5.2" fill="#aa00ff"/>
<circle cx="445.6" cy="473.6" r="2.65" fill="#3000ff"/>
<circle cx="392.1" cy="467.9" r="2.65" fill="#3000ff"/>
<circle cx="398.6" cy="474.9" r="2.65" fill="#3000ff"/>
<circle cx="411.1" cy="474.0" r="2.65" fill="#3000ff"/>
<circle cx="411.8" cy="476.0" r="2.65" fill="#3000ff"/>
<circle cx="422.2" cy="477.2" r="2.65" fill="#3000ff"/>
<circle cx="426.7" cy="477.9" r="2.65" fill="#3000ff"/>
<circle cx="388.7" cy="479.4" r="2.65" fill="#3000ff"/>
<circle cx="391.3" cy="481.6" r="2.65" fill="#3000ff"/>
<circle cx="393.6" cy="483.3" r="2.65" fill="#3000ff"/>
<polygon points="377.6,482.9 380.2,485.5 377.6,488.1 375.1,485.5" fill="#aa00ff"/>
<circle cx="397.4" cy="490.4" r="2.65" fill="#3000ff"/>
<circle cx="379.9" cy="491.9" r="2.65" fill="#3000ff"/>
<circle cx="388.3" cy="496.2" r="2.65" fill="#3000ff"/>
<circle cx="422.5" cy="497.5" r="2.65" fill="#aa00ff"/>
<rect x="459.0" y="401.9" width="5.2" height="5.2" fill="#aa00ff"/>
<rect x="476.3" y="394.9" width="5.2" height="5.2" fill="#aa00ff"/>
<rect x="485.4" y="394.9" width="5.2" height="5.2" fill="#ff0096"/>
<circle cx="483.8" cy="416.4" r="2.65" fill="#aa00ff"/>
<circle cx="502.5" cy="418.6" r="2.65" fill="#aa00ff"/>
<polygon points="470.7,419.6 473.2,422.2 470.7,424.8 468.1,422.2" fill="#aa00ff"/>
<rect x="486.4" y="422.7" width="5.2" height="5.2" fill="#6a00f5"/>
<polygon points="452.8,436.8 455.4,439.3 452.8,441.9 450.2,439.3" fill="#aa00ff"/>
<circle cx="456.4" cy="444.3" r="2.65" fill="#3000ff"/>
<rect x="476.7" y="441.3" width="5.2" height="5.2" fill="#aa00ff"/>
<rect x="494.9" y="440.4" width="5.2" height="5.2" fill="#aa00ff"/>
<rect x="484.0" y="448.6" width="5.2" height="5.2" fill="#ff0096"/>
<circle cx="491.7" cy="452.0" r="2.65" fill="#3000ff"/>
<circle cx="502.5" cy="453.2" r="2.65" fill="#3000ff"/>
<circle cx="464.7" cy="455.3" r="2.65" fill="#3000ff"/>
<circle cx="522.8" cy="453.2" r="2.65" fill="#3000ff"/>
<circle cx="455.9" cy="460.7" r="2.65" fill="#3000ff"/>
<circle cx="452.4" cy="479.7" r="2.65" fill="#3000ff"/>
<circle cx="479.6" cy="460.5" r="2.65" fill="#3000ff"/>
<circle cx="485.7" cy="459.1" r="2.65" fill="#3000ff"/>
<circle cx="493.0" cy="461.4" r="2.65" fill="#3000ff"/>
<circle cx="473.4" cy="467.1" r="2.65" fill="#3000ff"/>
<circle cx="512.2" cy="458.9" r="2.65" fill="#3000ff"/>
<circle cx="509.8" cy="461.4" r="2.65" fill="#3000ff"/>
<circle cx="507.6" cy="464.2" r="2.65" fill="#3000ff"/>
<circle cx="514.0" cy="460.7" r="2.65" fill="#3000ff"/>
<circle cx="517.6" cy="462.0" r="2.65" fill="#3000ff"/>
<circle cx="509.1" cy="467.8" r="2.65" fill="#3000ff"/>
<circle cx="517.3" cy="468.4" r="2.65" fill="#3000ff"/>
<circle cx="525.0" cy="468.0" r="2.65" fill="#3000ff"/>
<circle cx="526.4" cy="459.2" r="2.65" fill="#3000ff"/>
<circle cx="476.2" cy="516.4" r="2.65" fill="#aa00ff"/>
<g stroke="#262626" stroke-width="1.15" fill="none">
<path d="M47.1,16.7 H526.5 V609.3 H47.1"/>
<line x1="47.1" y1="16.2" x2="47.1" y2="609.8" stroke="#7c7c7c" stroke-width="1.7"/>
<line x1="47.1" y1="312.9" x2="526.5" y2="312.9"/>
<line x1="95.0" y1="16.7" x2="95.0" y2="19.7"/>
<line x1="95.0" y1="312.9" x2="95.0" y2="309.9"/>
<line x1="95.0" y1="609.3" x2="95.0" y2="606.3"/>
<line x1="143.0" y1="16.7" x2="143.0" y2="19.7"/>
<line x1="143.0" y1="312.9" x2="143.0" y2="309.9"/>
<line x1="143.0" y1="609.3" x2="143.0" y2="606.3"/>
<line x1="190.9" y1="16.7" x2="190.9" y2="19.7"/>
<line x1="190.9" y1="312.9" x2="190.9" y2="309.9"/>
<line x1="190.9" y1="609.3" x2="190.9" y2="606.3"/>
<line x1="238.9" y1="16.7" x2="238.9" y2="19.7"/>
<line x1="238.9" y1="312.9" x2="238.9" y2="309.9"/>
<line x1="238.9" y1="609.3" x2="238.9" y2="606.3"/>
<line x1="286.8" y1="16.7" x2="286.8" y2="19.7"/>
<line x1="286.8" y1="312.9" x2="286.8" y2="309.9"/>
<line x1="286.8" y1="609.3" x2="286.8" y2="606.3"/>
<line x1="334.7" y1="16.7" x2="334.7" y2="19.7"/>
<line x1="334.7" y1="312.9" x2="334.7" y2="309.9"/>
<line x1="334.7" y1="609.3" x2="334.7" y2="606.3"/>
<line x1="382.7" y1="16.7" x2="382.7" y2="19.7"/>
<line x1="382.7" y1="312.9" x2="382.7" y2="309.9"/>
<line x1="382.7" y1="609.3" x2="382.7" y2="606.3"/>
<line x1="430.6" y1="16.7" x2="430.6" y2="19.7"/>
<line x1="430.6" y1="312.9" x2="430.6" y2="309.9"/>
<line x1="430.6" y1="609.3" x2="430.6" y2="606.3"/>
<line x1="478.6" y1="16.7" x2="478.6" y2="19.7"/>
<line x1="478.6" y1="312.9" x2="478.6" y2="309.9"/>
<line x1="478.6" y1="609.3" x2="478.6" y2="606.3"/>
<line x1="47.1" y1="263.5" x2="50.1" y2="263.5"/>
<line x1="526.5" y1="263.5" x2="523.5" y2="263.5"/>
<line x1="47.1" y1="214.2" x2="50.1" y2="214.2"/>
<line x1="526.5" y1="214.2" x2="523.5" y2="214.2"/>
<line x1="47.1" y1="164.8" x2="50.1" y2="164.8"/>
<line x1="526.5" y1="164.8" x2="523.5" y2="164.8"/>
<line x1="47.1" y1="115.4" x2="50.1" y2="115.4"/>
<line x1="526.5" y1="115.4" x2="523.5" y2="115.4"/>
<line x1="47.1" y1="66.1" x2="50.1" y2="66.1"/>
<line x1="526.5" y1="66.1" x2="523.5" y2="66.1"/>
<line x1="47.1" y1="572.2" x2="50.1" y2="572.2"/>
<line x1="526.5" y1="572.2" x2="523.5" y2="572.2"/>
<line x1="47.1" y1="498.1" x2="50.1" y2="498.1"/>
<line x1="526.5" y1="498.1" x2="523.5" y2="498.1"/>
<line x1="47.1" y1="424.0" x2="50.1" y2="424.0"/>
<line x1="526.5" y1="424.0" x2="523.5" y2="424.0"/>
<line x1="47.1" y1="349.9" x2="50.1" y2="349.9"/>
<line x1="526.5" y1="349.9" x2="523.5" y2="349.9"/>
</g>
<text x="47.1" y="633.7" font-size="14.6" text-anchor="middle">-20</text>
<text x="95.0" y="633.7" font-size="14.6" text-anchor="middle">-15</text>
<text x="143.0" y="633.7" font-size="14.6" text-anchor="middle">-10</text>
<text x="190.9" y="633.7" font-size="14.6" text-anchor="middle">-5</text>
<text x="238.9" y="633.7" font-size="14.6" text-anchor="middle">0</text>
<text x="286.8" y="633.7" font-size="14.6" text-anchor="middle">5</text>
<text x="334.7" y="633.7" font-size="14.6" text-anchor="middle">10</text>
<text x="382.7" y="633.7" font-size="14.6" text-anchor="middle">15</text>
<text x="430.6" y="633.7" font-size="14.6" text-anchor="middle">20</text>
<text x="478.6" y="633.7" font-size="14.6" text-anchor="middle">25</text>
<text x="526.5" y="633.7" font-size="14.6" text-anchor="middle">30</text>
<text x="42.2" y="313.5" font-size="14.6" text-anchor="end">0.5</text>
<text x="42.2" y="270.1" font-size="14.6" text-anchor="end">1.0</text>
<text x="42.2" y="220.8" font-size="14.6" text-anchor="end">1.5</text>
<text x="42.2" y="171.4" font-size="14.6" text-anchor="end">2.0</text>
<text x="42.2" y="122.0" font-size="14.6" text-anchor="end">2.5</text>
<text x="42.2" y="72.7" font-size="14.6" text-anchor="end">3.0</text>
<text x="42.2" y="27.9" font-size="14.6" text-anchor="end">3.5</text>
<text x="42.2" y="578.9" font-size="14.6" text-anchor="end">3</text>
<text x="42.2" y="504.8" font-size="14.6" text-anchor="end">4</text>
<text x="42.2" y="430.6" font-size="14.6" text-anchor="end">5</text>
<text x="42.2" y="356.6" font-size="14.6" text-anchor="end">6</text>
<text x="287.3" y="653.8" font-size="14.5" text-anchor="middle">Days from Bpeak</text>
<text transform="translate(10.4,164.6) rotate(-90) scale(0.9,1)" font-size="15" text-anchor="middle">uvw1 - v</text>
<text transform="translate(20.4,462) rotate(-90) scale(0.9,1)" font-size="15" text-anchor="middle">uvm2 - v</text>
</svg></body></html>
